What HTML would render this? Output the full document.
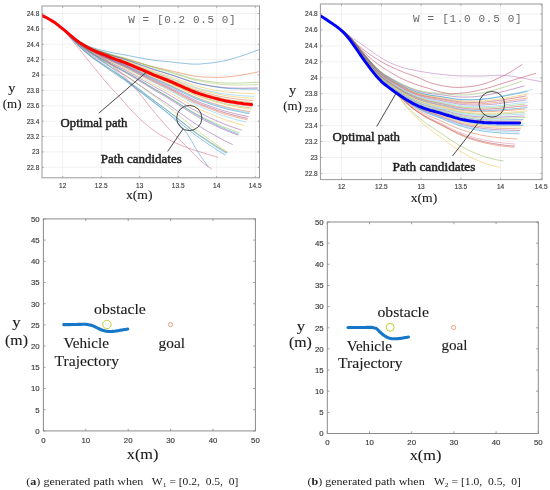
<!DOCTYPE html>
<html><head><meta charset="utf-8"><title>figure</title>
<style>
html,body{margin:0;padding:0;background:#fff;}
body{width:550px;height:490px;overflow:hidden;}
svg{display:block}
.tk{font-family:"Liberation Sans",sans-serif;stroke:#444;stroke-width:0.15px;}
.an{font-family:"Liberation Serif",serif;fill:#222;stroke:#222;stroke-width:0.45px;}
.lb{font-family:"Liberation Serif",serif;fill:#1a1a1a;stroke:#1a1a1a;stroke-width:0.1px;}
.mono{font-family:"Liberation Mono",monospace;fill:#666;}
.cap{font-family:"Liberation Serif",serif;fill:#222;}
</style></head><body>
<svg width="550" height="490" viewBox="0 0 550 490">
<rect width="550" height="490" fill="#fff"/>
<filter id="soft" x="0" y="0" width="550" height="490" filterUnits="userSpaceOnUse"><feGaussianBlur stdDeviation="0.35"/></filter>
<g filter="url(#soft)">
<line x1="62.7" y1="6.0" x2="62.7" y2="177.8" stroke="#ececec" stroke-width="0.7"/>
<line x1="101.2" y1="6.0" x2="101.2" y2="177.8" stroke="#ececec" stroke-width="0.7"/>
<line x1="139.7" y1="6.0" x2="139.7" y2="177.8" stroke="#ececec" stroke-width="0.7"/>
<line x1="178.2" y1="6.0" x2="178.2" y2="177.8" stroke="#ececec" stroke-width="0.7"/>
<line x1="216.7" y1="6.0" x2="216.7" y2="177.8" stroke="#ececec" stroke-width="0.7"/>
<line x1="255.2" y1="6.0" x2="255.2" y2="177.8" stroke="#ececec" stroke-width="0.7"/>
<line x1="42.0" y1="13.5" x2="259.5" y2="13.5" stroke="#ececec" stroke-width="0.7"/>
<line x1="42.0" y1="28.9" x2="259.5" y2="28.9" stroke="#ececec" stroke-width="0.7"/>
<line x1="42.0" y1="44.3" x2="259.5" y2="44.3" stroke="#ececec" stroke-width="0.7"/>
<line x1="42.0" y1="59.6" x2="259.5" y2="59.6" stroke="#ececec" stroke-width="0.7"/>
<line x1="42.0" y1="75.0" x2="259.5" y2="75.0" stroke="#ececec" stroke-width="0.7"/>
<line x1="42.0" y1="90.4" x2="259.5" y2="90.4" stroke="#ececec" stroke-width="0.7"/>
<line x1="42.0" y1="105.8" x2="259.5" y2="105.8" stroke="#ececec" stroke-width="0.7"/>
<line x1="42.0" y1="121.2" x2="259.5" y2="121.2" stroke="#ececec" stroke-width="0.7"/>
<line x1="42.0" y1="136.5" x2="259.5" y2="136.5" stroke="#ececec" stroke-width="0.7"/>
<line x1="42.0" y1="151.9" x2="259.5" y2="151.9" stroke="#ececec" stroke-width="0.7"/>
<line x1="42.0" y1="167.3" x2="259.5" y2="167.3" stroke="#ececec" stroke-width="0.7"/>
<clipPath id="c1"><rect x="42.0" y="6.0" width="217.5" height="171.8"/></clipPath>
<g clip-path="url(#c1)">
<polyline points="42.2,15.6 45.4,17.1 48.6,18.8 51.8,20.7 54.9,22.8 58.1,25.2 61.3,27.7 64.5,30.2 67.7,32.8 70.9,35.3 74.1,37.9 77.2,40.1 80.4,42.0 83.6,43.7 86.8,45.3 90.0,46.7 93.2,47.8 96.4,48.8 99.5,49.7 102.7,50.5 105.9,51.2 109.1,52.0 112.3,52.7 115.5,53.4 118.7,53.9 121.8,54.4 125.0,55.0 128.2,55.6 131.4,56.2 134.6,56.8 137.8,57.5 141.0,58.0 144.1,58.6 147.3,59.2 150.5,59.7 153.7,60.2 156.9,60.5 160.1,60.9 163.2,61.2 166.4,61.5 169.6,61.8 172.8,62.2 176.0,62.6 179.2,62.9 182.4,63.2 185.5,63.5 188.7,63.8 191.9,64.1 195.1,64.1 198.3,64.1 201.5,63.9 204.7,63.6 207.8,63.3 211.0,63.0 214.2,62.6 217.4,62.1 220.6,61.6 223.8,60.9 227.0,60.2 230.1,59.4 233.3,58.5 236.5,57.5 239.7,56.6 242.9,55.5 246.1,54.4 249.3,53.3 252.4,52.1 255.6,50.9 258.8,49.7 262.0,48.5" fill="none" stroke="#0072BD" stroke-width="0.55" stroke-opacity="0.8" stroke-linejoin="round" stroke-linecap="round" />
<polyline points="42.2,15.6 45.3,17.1 48.5,18.8 51.6,20.6 54.7,22.7 57.9,25.0 61.0,27.5 64.2,30.0 67.3,32.6 70.4,35.2 73.6,37.8 76.7,40.2 79.8,42.3 83.0,44.1 86.1,45.9 89.2,47.5 92.4,48.8 95.5,50.0 98.7,51.1 101.8,52.1 104.9,53.1 108.1,54.1 111.2,55.1 114.3,56.0 117.5,56.8 120.6,57.6 123.7,58.4 126.9,59.3 130.0,60.2 133.2,61.1 136.3,62.0 139.4,62.9 142.6,63.8 145.7,64.7 148.8,65.6 152.0,66.5 155.1,67.2 158.2,68.0 161.4,68.6 164.5,69.3 167.6,70.0 170.8,70.7 173.9,71.5 177.1,72.3 180.2,73.0 183.3,73.7 186.5,74.5 189.6,75.2 192.7,75.8 195.9,76.3 199.0,76.6 202.1,76.9 205.3,77.1 208.4,77.2 211.6,77.3 214.7,77.4 217.8,77.4 221.0,77.3 224.1,77.2 227.2,76.9 230.4,76.6 233.5,76.3 236.6,75.8 239.8,75.4 242.9,74.9 246.1,74.3 249.2,73.7 252.3,73.1 255.5,72.4 258.6,71.8" fill="none" stroke="#D95319" stroke-width="0.55" stroke-opacity="0.8" stroke-linejoin="round" stroke-linecap="round" />
<polyline points="42.2,15.6 45.3,17.1 48.5,18.8 51.6,20.6 54.7,22.7 57.9,25.0 61.0,27.4 64.2,29.9 67.3,32.4 70.4,35.0 73.6,37.5 76.7,39.9 79.8,41.9 83.0,43.7 86.1,45.4 89.2,46.9 92.4,48.3 95.5,49.4 98.7,50.5 101.8,51.5 104.9,52.4 108.1,53.4 111.2,54.4 114.3,55.4 117.5,56.2 120.6,57.0 123.7,57.8 126.9,58.8 130.0,59.7 133.2,60.7 136.3,61.7 139.4,62.7 142.6,63.7 145.7,64.7 148.8,65.7 152.0,66.7 155.1,67.6 158.2,68.4 161.4,69.3 164.5,70.1 167.6,71.0 170.8,71.9 173.9,72.8 177.1,73.8 180.2,74.8 183.3,75.7 186.5,76.7 189.6,77.6 192.7,78.5 195.9,79.2 199.0,79.8 202.1,80.4 205.3,80.9 208.4,81.3 211.6,81.7 214.7,82.1 217.8,82.5 221.0,82.8 224.1,83.0 227.2,83.1 230.4,83.1 233.5,83.2 236.6,83.1 239.8,83.1 242.9,83.0 246.1,82.9 249.2,82.7 252.3,82.5 255.5,82.4 258.6,82.2" fill="none" stroke="#77AC30" stroke-width="0.55" stroke-opacity="0.8" stroke-linejoin="round" stroke-linecap="round" />
<polyline points="42.2,15.6 45.3,17.1 48.5,18.8 51.6,20.6 54.7,22.6 57.8,24.9 61.0,27.4 64.1,29.8 67.2,32.4 70.3,34.9 73.5,37.4 76.6,39.8 79.7,41.8 82.9,43.6 86.0,45.3 89.1,46.9 92.2,48.2 95.4,49.4 98.5,50.5 101.6,51.5 104.8,52.5 107.9,53.5 111.0,54.5 114.1,55.4 117.3,56.3 120.4,57.1 123.5,58.0 126.6,58.9 129.8,59.9 132.9,61.0 136.0,62.0 139.2,63.0 142.3,64.0 145.4,65.1 148.5,66.1 151.7,67.1 154.8,68.0 157.9,68.9 161.0,69.8 164.2,70.7 167.3,71.6 170.4,72.5 173.6,73.5 176.7,74.5 179.8,75.5 182.9,76.5 186.1,77.5 189.2,78.5 192.3,79.4 195.4,80.2 198.6,80.9 201.7,81.5 204.8,82.1 208.0,82.6 211.1,83.1 214.2,83.5 217.3,83.9 220.5,84.3 223.6,84.6 226.7,84.8 229.9,84.9 233.0,85.0 236.1,85.0 239.2,85.0 242.4,85.0 245.5,85.0 248.6,84.9 251.7,84.8 254.9,84.7 258.0,84.6" fill="none" stroke="#9BBB40" stroke-width="0.55" stroke-opacity="0.8" stroke-linejoin="round" stroke-linecap="round" />
<polyline points="42.2,15.6 45.3,17.1 48.4,18.8 51.6,20.6 54.7,22.6 57.8,24.9 60.9,27.4 64.0,29.9 67.2,32.4 70.3,35.0 73.4,37.6 76.5,40.0 79.6,42.1 82.8,44.0 85.9,45.8 89.0,47.4 92.1,48.8 95.2,50.0 98.4,51.2 101.5,52.2 104.6,53.3 107.7,54.4 110.8,55.4 114.0,56.5 117.1,57.4 120.2,58.3 123.3,59.2 126.4,60.2 129.6,61.2 132.7,62.3 135.8,63.4 138.9,64.5 142.0,65.6 145.2,66.7 148.3,67.7 151.4,68.8 154.5,69.8 157.7,70.8 160.8,71.7 163.9,72.6 167.0,73.6 170.1,74.6 173.3,75.6 176.4,76.7 179.5,77.7 182.6,78.7 185.7,79.8 188.9,80.8 192.0,81.8 195.1,82.7 198.2,83.4 201.3,84.1 204.5,84.7 207.6,85.2 210.7,85.8 213.8,86.3 216.9,86.7 220.1,87.1 223.2,87.5 226.3,87.7 229.4,87.9 232.5,88.0 235.7,88.1 238.8,88.1 241.9,88.2 245.0,88.2 248.1,88.1 251.3,88.0 254.4,88.0 257.5,87.9" fill="none" stroke="#7E2F8E" stroke-width="0.55" stroke-opacity="0.8" stroke-linejoin="round" stroke-linecap="round" />
<polyline points="42.2,15.6 45.3,17.1 48.4,18.8 51.6,20.6 54.7,22.6 57.8,24.9 60.9,27.4 64.0,29.8 67.2,32.4 70.3,34.9 73.4,37.5 76.5,39.9 79.6,41.9 82.8,43.8 85.9,45.5 89.0,47.1 92.1,48.5 95.2,49.7 98.4,50.9 101.5,51.9 104.6,53.0 107.7,54.0 110.8,55.1 114.0,56.1 117.1,57.0 120.2,57.9 123.3,58.8 126.4,59.8 129.6,60.9 132.7,62.0 135.8,63.1 138.9,64.1 142.0,65.2 145.2,66.3 148.3,67.4 151.4,68.5 154.5,69.5 157.7,70.5 160.8,71.4 163.9,72.4 167.0,73.4 170.1,74.4 173.3,75.4 176.4,76.5 179.5,77.6 182.6,78.7 185.7,79.7 188.9,80.8 192.0,81.9 195.1,82.8 198.2,83.5 201.3,84.2 204.5,84.9 207.6,85.5 210.7,86.1 213.8,86.6 216.9,87.1 220.1,87.6 223.2,88.0 226.3,88.3 229.4,88.5 232.5,88.7 235.7,88.8 238.8,88.9 241.9,89.0 245.0,89.1 248.1,89.1 251.3,89.1 254.4,89.1 257.5,89.1" fill="none" stroke="#0072BD" stroke-width="0.55" stroke-opacity="0.8" stroke-linejoin="round" stroke-linecap="round" />
<polyline points="42.2,15.6 45.3,17.0 48.4,18.7 51.4,20.5 54.5,22.5 57.6,24.7 60.7,27.2 63.7,29.6 66.8,32.2 69.9,34.7 73.0,37.3 76.0,39.7 79.1,41.8 82.2,43.7 85.3,45.5 88.4,47.2 91.4,48.7 94.5,49.9 97.6,51.1 100.7,52.2 103.7,53.3 106.8,54.4 109.9,55.5 113.0,56.6 116.0,57.6 119.1,58.6 122.2,59.5 125.3,60.5 128.4,61.6 131.4,62.7 134.5,63.9 137.6,65.0 140.7,66.2 143.7,67.3 146.8,68.5 149.9,69.6 153.0,70.7 156.0,71.8 159.1,72.8 162.2,73.8 165.3,74.8 168.3,75.9 171.4,77.0 174.5,78.1 177.6,79.3 180.7,80.4 183.7,81.5 186.8,82.7 189.9,83.8 193.0,84.9 196.0,85.8 199.1,86.7 202.2,87.4 205.3,88.1 208.3,88.8 211.4,89.4 214.5,90.0 217.6,90.6 220.7,91.2 223.7,91.6 226.8,92.0 229.9,92.3 233.0,92.6 236.0,92.8 239.1,93.0 242.2,93.2 245.3,93.3 248.3,93.4 251.4,93.5 254.5,93.6" fill="none" stroke="#EDB120" stroke-width="0.55" stroke-opacity="0.8" stroke-linejoin="round" stroke-linecap="round" />
<polyline points="42.2,15.6 45.3,17.0 48.3,18.7 51.4,20.5 54.5,22.5 57.5,24.7 60.6,27.1 63.7,29.6 66.8,32.2 69.8,34.7 72.9,37.3 76.0,39.8 79.0,41.9 82.1,43.9 85.2,45.7 88.2,47.4 91.3,48.9 94.4,50.2 97.5,51.4 100.5,52.6 103.6,53.7 106.7,54.8 109.7,56.0 112.8,57.1 115.9,58.2 118.9,59.1 122.0,60.1 125.1,61.2 128.1,62.3 131.2,63.5 134.3,64.6 137.4,65.8 140.4,67.0 143.5,68.2 146.6,69.4 149.6,70.6 152.7,71.7 155.8,72.9 158.8,73.9 161.9,75.0 165.0,76.0 168.1,77.1 171.1,78.3 174.2,79.4 177.3,80.6 180.3,81.8 183.4,83.0 186.5,84.2 189.5,85.4 192.6,86.5 195.7,87.5 198.7,88.4 201.8,89.2 204.9,90.0 208.0,90.7 211.0,91.4 214.1,92.0 217.2,92.7 220.2,93.3 223.3,93.8 226.4,94.2 229.4,94.6 232.5,94.9 235.6,95.2 238.7,95.4 241.7,95.7 244.8,95.9 247.9,96.0 250.9,96.2 254.0,96.3" fill="none" stroke="#4DBEEE" stroke-width="0.55" stroke-opacity="0.8" stroke-linejoin="round" stroke-linecap="round" />
<polyline points="42.2,15.6 45.3,17.0 48.3,18.7 51.4,20.5 54.4,22.5 57.5,24.7 60.6,27.1 63.6,29.6 66.7,32.1 69.8,34.6 72.8,37.2 75.9,39.7 78.9,41.8 82.0,43.8 85.1,45.6 88.1,47.3 91.2,48.8 94.3,50.1 97.3,51.3 100.4,52.5 103.4,53.6 106.5,54.8 109.6,55.9 112.6,57.1 115.7,58.1 118.8,59.1 121.8,60.1 124.9,61.2 127.9,62.3 131.0,63.5 134.1,64.7 137.1,65.9 140.2,67.1 143.3,68.3 146.3,69.6 149.4,70.8 152.4,72.0 155.5,73.1 158.6,74.2 161.6,75.3 164.7,76.4 167.8,77.5 170.8,78.7 173.9,79.9 176.9,81.1 180.0,82.4 183.1,83.6 186.1,84.8 189.2,86.0 192.3,87.2 195.3,88.3 198.4,89.2 201.4,90.1 204.5,90.9 207.6,91.7 210.6,92.4 213.7,93.1 216.8,93.8 219.8,94.5 222.9,95.1 225.9,95.6 229.0,96.0 232.1,96.4 235.1,96.8 238.2,97.1 241.3,97.4 244.3,97.6 247.4,97.9 250.4,98.1 253.5,98.3" fill="none" stroke="#EDB120" stroke-width="0.55" stroke-opacity="0.8" stroke-linejoin="round" stroke-linecap="round" />
<polyline points="42.2,15.6 45.3,17.0 48.3,18.7 51.4,20.5 54.4,22.4 57.5,24.6 60.5,27.1 63.6,29.5 66.6,32.1 69.7,34.6 72.8,37.2 75.8,39.7 78.9,41.9 81.9,43.9 85.0,45.7 88.0,47.4 91.1,49.0 94.1,50.4 97.2,51.6 100.2,52.8 103.3,54.0 106.4,55.1 109.4,56.3 112.5,57.5 115.5,58.6 118.6,59.6 121.6,60.6 124.7,61.7 127.7,62.9 130.8,64.1 133.9,65.4 136.9,66.6 140.0,67.8 143.0,69.1 146.1,70.3 149.1,71.6 152.2,72.8 155.2,74.0 158.3,75.1 161.3,76.3 164.4,77.4 167.5,78.5 170.5,79.7 173.6,81.0 176.6,82.3 179.7,83.5 182.7,84.8 185.8,86.0 188.8,87.3 191.9,88.6 195.0,89.7 198.0,90.7 201.1,91.6 204.1,92.4 207.2,93.3 210.2,94.0 213.3,94.8 216.3,95.6 219.4,96.3 222.4,96.9 225.5,97.4 228.6,97.9 231.6,98.4 234.7,98.8 237.7,99.1 240.8,99.5 243.8,99.8 246.9,100.1 249.9,100.3 253.0,100.6" fill="none" stroke="#D95319" stroke-width="0.55" stroke-opacity="0.8" stroke-linejoin="round" stroke-linecap="round" />
<polyline points="42.2,15.6 45.2,17.0 48.3,18.7 51.3,20.5 54.4,22.4 57.4,24.6 60.5,27.0 63.5,29.5 66.6,32.0 69.6,34.6 72.6,37.2 75.7,39.7 78.7,41.9 81.8,43.9 84.8,45.7 87.9,47.5 90.9,49.0 94.0,50.4 97.0,51.7 100.1,52.9 103.1,54.1 106.1,55.3 109.2,56.5 112.2,57.7 115.3,58.8 118.3,59.8 121.4,60.9 124.4,62.0 127.5,63.2 130.5,64.4 133.5,65.7 136.6,66.9 139.6,68.2 142.7,69.5 145.7,70.8 148.8,72.0 151.8,73.3 154.9,74.5 157.9,75.7 161.0,76.9 164.0,78.0 167.0,79.2 170.1,80.4 173.1,81.7 176.2,83.0 179.2,84.3 182.3,85.6 185.3,86.9 188.4,88.2 191.4,89.5 194.4,90.7 197.5,91.7 200.5,92.7 203.6,93.6 206.6,94.5 209.7,95.3 212.7,96.1 215.8,96.9 218.8,97.6 221.9,98.3 224.9,99.0 227.9,99.5 231.0,100.0 234.0,100.5 237.1,100.9 240.1,101.3 243.2,101.6 246.2,102.0 249.3,102.3 252.3,102.6" fill="none" stroke="#77AC30" stroke-width="0.55" stroke-opacity="0.8" stroke-linejoin="round" stroke-linecap="round" />
<polyline points="42.2,15.6 45.2,17.0 48.3,18.7 51.3,20.5 54.4,22.4 57.4,24.6 60.5,27.0 63.5,29.5 66.6,32.1 69.6,34.7 72.6,37.3 75.7,39.8 78.7,42.1 81.8,44.1 84.8,46.0 87.9,47.8 90.9,49.4 94.0,50.8 97.0,52.1 100.1,53.4 103.1,54.6 106.1,55.9 109.2,57.1 112.2,58.4 115.3,59.5 118.3,60.6 121.4,61.8 124.4,62.9 127.5,64.2 130.5,65.4 133.5,66.8 136.6,68.1 139.6,69.4 142.7,70.7 145.7,72.1 148.8,73.4 151.8,74.8 154.9,76.0 157.9,77.3 161.0,78.5 164.0,79.7 167.0,81.0 170.1,82.3 173.1,83.6 176.2,85.0 179.2,86.4 182.3,87.7 185.3,89.1 188.4,90.5 191.4,91.8 194.4,93.1 197.5,94.2 200.5,95.2 203.6,96.2 206.6,97.2 209.7,98.1 212.7,99.0 215.8,99.8 218.8,100.7 221.9,101.4 224.9,102.1 227.9,102.8 231.0,103.3 234.0,103.9 237.1,104.4 240.1,104.8 243.2,105.3 246.2,105.7 249.3,106.1 252.3,106.5" fill="none" stroke="#D8708A" stroke-width="0.55" stroke-opacity="0.8" stroke-linejoin="round" stroke-linecap="round" />
<polyline points="42.2,15.6 45.2,17.0 48.3,18.7 51.3,20.5 54.3,22.4 57.4,24.5 60.4,27.0 63.4,29.5 66.4,32.0 69.5,34.6 72.5,37.3 75.5,39.8 78.6,42.1 81.6,44.1 84.6,46.0 87.7,47.8 90.7,49.5 93.7,51.0 96.7,52.3 99.8,53.6 102.8,54.8 105.8,56.1 108.9,57.4 111.9,58.6 114.9,59.8 118.0,61.0 121.0,62.1 124.0,63.3 127.1,64.5 130.1,65.8 133.1,67.1 136.1,68.5 139.2,69.8 142.2,71.2 145.2,72.6 148.3,73.9 151.3,75.3 154.3,76.6 157.4,77.9 160.4,79.1 163.4,80.3 166.4,81.6 169.5,82.9 172.5,84.3 175.5,85.7 178.6,87.0 181.6,88.4 184.6,89.8 187.7,91.2 190.7,92.6 193.7,93.9 196.8,95.1 199.8,96.2 202.8,97.2 205.8,98.1 208.9,99.1 211.9,100.0 214.9,100.9 218.0,101.8 221.0,102.6 224.0,103.3 227.1,104.0 230.1,104.6 233.1,105.2 236.1,105.7 239.2,106.2 242.2,106.7 245.2,107.2 248.3,107.6 251.3,108.0" fill="none" stroke="#77AC30" stroke-width="0.55" stroke-opacity="0.8" stroke-linejoin="round" stroke-linecap="round" />
<polyline points="42.2,15.6 45.2,17.0 48.2,18.6 51.3,20.4 54.3,22.4 57.3,24.5 60.3,26.9 63.4,29.4 66.4,32.0 69.4,34.6 72.4,37.2 75.5,39.8 78.5,42.0 81.5,44.1 84.5,46.0 87.5,47.8 90.6,49.5 93.6,50.9 96.6,52.3 99.6,53.6 102.7,54.8 105.7,56.1 108.7,57.4 111.7,58.7 114.8,59.9 117.8,61.0 120.8,62.2 123.8,63.3 126.8,64.6 129.9,65.9 132.9,67.3 135.9,68.6 138.9,70.0 142.0,71.3 145.0,72.7 148.0,74.1 151.0,75.5 154.1,76.8 157.1,78.1 160.1,79.4 163.1,80.6 166.2,81.9 169.2,83.2 172.2,84.6 175.2,86.0 178.2,87.4 181.3,88.8 184.3,90.2 187.3,91.7 190.3,93.1 193.4,94.4 196.4,95.6 199.4,96.7 202.4,97.8 205.5,98.8 208.5,99.8 211.5,100.7 214.5,101.7 217.5,102.6 220.6,103.4 223.6,104.2 226.6,104.9 229.6,105.5 232.7,106.1 235.7,106.7 238.7,107.3 241.7,107.8 244.8,108.3 247.8,108.8 250.8,109.2" fill="none" stroke="#EDB120" stroke-width="0.55" stroke-opacity="0.8" stroke-linejoin="round" stroke-linecap="round" />
<polyline points="42.2,15.6 45.2,17.0 48.2,18.6 51.2,20.4 54.2,22.3 57.3,24.5 60.3,26.9 63.3,29.4 66.3,32.0 69.3,34.6 72.3,37.2 75.3,39.8 78.3,42.1 81.4,44.2 84.4,46.2 87.4,48.0 90.4,49.7 93.4,51.2 96.4,52.6 99.4,54.0 102.4,55.3 105.4,56.5 108.5,57.9 111.5,59.2 114.5,60.4 117.5,61.6 120.5,62.8 123.5,64.0 126.5,65.3 129.5,66.7 132.5,68.0 135.6,69.4 138.6,70.8 141.6,72.2 144.6,73.6 147.6,75.1 150.6,76.5 153.6,77.9 156.6,79.2 159.7,80.5 162.7,81.8 165.7,83.1 168.7,84.5 171.7,85.9 174.7,87.3 177.7,88.8 180.7,90.2 183.7,91.6 186.8,93.1 189.8,94.6 192.8,96.0 195.8,97.2 198.8,98.4 201.8,99.5 204.8,100.6 207.8,101.6 210.8,102.6 213.9,103.5 216.9,104.5 219.9,105.4 222.9,106.2 225.9,107.0 228.9,107.7 231.9,108.4 234.9,109.0 238.0,109.6 241.0,110.1 244.0,110.7 247.0,111.2 250.0,111.7" fill="none" stroke="#D95319" stroke-width="0.55" stroke-opacity="0.8" stroke-linejoin="round" stroke-linecap="round" />
<polyline points="42.2,15.6 45.2,17.0 48.2,18.6 51.2,20.4 54.2,22.3 57.2,24.4 60.2,26.8 63.2,29.3 66.2,31.9 69.2,34.5 72.2,37.2 75.2,39.7 78.2,42.1 81.2,44.1 84.2,46.1 87.2,48.0 90.2,49.7 93.2,51.2 96.2,52.6 99.2,53.9 102.2,55.2 105.2,56.5 108.2,57.9 111.2,59.2 114.2,60.5 117.2,61.7 120.2,62.8 123.2,64.1 126.2,65.3 129.2,66.7 132.2,68.1 135.2,69.5 138.2,70.9 141.2,72.3 144.2,73.7 147.3,75.2 150.3,76.6 153.3,78.0 156.3,79.3 159.3,80.7 162.3,82.0 165.3,83.3 168.3,84.7 171.3,86.1 174.3,87.5 177.3,89.0 180.3,90.5 183.3,91.9 186.3,93.4 189.3,94.9 192.3,96.3 195.3,97.6 198.3,98.8 201.3,99.9 204.3,101.0 207.3,102.1 210.3,103.1 213.3,104.1 216.3,105.0 219.3,106.0 222.3,106.9 225.3,107.7 228.3,108.4 231.3,109.1 234.3,109.7 237.3,110.4 240.3,110.9 243.3,111.5 246.3,112.1 249.3,112.6" fill="none" stroke="#4DBEEE" stroke-width="0.55" stroke-opacity="0.8" stroke-linejoin="round" stroke-linecap="round" />
<polyline points="42.2,15.6 45.2,17.0 48.2,18.6 51.2,20.4 54.2,22.3 57.2,24.4 60.2,26.8 63.2,29.3 66.2,31.9 69.2,34.6 72.2,37.2 75.2,39.9 78.1,42.2 81.1,44.3 84.1,46.3 87.1,48.2 90.1,49.9 93.1,51.5 96.1,52.9 99.1,54.3 102.1,55.6 105.1,56.9 108.1,58.2 111.1,59.6 114.1,60.9 117.1,62.1 120.1,63.3 123.1,64.5 126.1,65.8 129.1,67.2 132.1,68.6 135.1,70.0 138.1,71.4 141.1,72.9 144.1,74.3 147.0,75.7 150.0,77.2 153.0,78.6 156.0,80.0 159.0,81.3 162.0,82.6 165.0,84.0 168.0,85.3 171.0,86.7 174.0,88.2 177.0,89.7 180.0,91.2 183.0,92.6 186.0,94.1 189.0,95.6 192.0,97.0 195.0,98.4 198.0,99.6 201.0,100.7 204.0,101.8 207.0,102.9 210.0,103.9 213.0,104.9 215.9,105.9 218.9,106.9 221.9,107.7 224.9,108.6 227.9,109.3 230.9,110.0 233.9,110.7 236.9,111.3 239.9,111.9 242.9,112.5 245.9,113.1 248.9,113.6" fill="none" stroke="#0072BD" stroke-width="0.55" stroke-opacity="0.8" stroke-linejoin="round" stroke-linecap="round" />
<polyline points="42.2,15.6 45.2,17.0 48.2,18.6 51.2,20.4 54.1,22.3 57.1,24.4 60.1,26.8 63.1,29.3 66.1,31.9 69.1,34.5 72.1,37.2 75.0,39.8 78.0,42.1 81.0,44.3 84.0,46.3 87.0,48.2 90.0,49.9 93.0,51.5 95.9,53.0 98.9,54.4 101.9,55.7 104.9,57.1 107.9,58.4 110.9,59.8 113.9,61.2 116.8,62.4 119.8,63.6 122.8,64.9 125.8,66.2 128.8,67.6 131.8,69.1 134.8,70.6 137.7,72.0 140.7,73.5 143.7,75.0 146.7,76.5 149.7,77.9 152.7,79.4 155.6,80.8 158.6,82.2 161.6,83.6 164.6,85.0 167.6,86.4 170.6,87.9 173.6,89.4 176.5,90.9 179.5,92.4 182.5,94.0 185.5,95.5 188.5,97.0 191.5,98.6 194.5,100.0 197.4,101.3 200.4,102.5 203.4,103.7 206.4,104.8 209.4,105.9 212.4,107.0 215.4,108.0 218.3,109.0 221.3,110.0 224.3,110.9 227.3,111.7 230.3,112.5 233.3,113.3 236.3,114.0 239.2,114.7 242.2,115.3 245.2,116.0 248.2,116.6" fill="none" stroke="#7E2F8E" stroke-width="0.55" stroke-opacity="0.8" stroke-linejoin="round" stroke-linecap="round" />
<polyline points="42.2,15.6 45.2,17.0 48.1,18.6 51.1,20.3 54.1,22.2 57.1,24.3 60.0,26.7 63.0,29.2 66.0,31.8 69.0,34.5 71.9,37.2 74.9,39.8 77.9,42.2 80.8,44.4 83.8,46.4 86.8,48.3 89.8,50.1 92.7,51.8 95.7,53.2 98.7,54.7 101.6,56.1 104.6,57.4 107.6,58.8 110.6,60.2 113.5,61.6 116.5,62.9 119.5,64.1 122.5,65.4 125.4,66.8 128.4,68.2 131.4,69.6 134.3,71.1 137.3,72.6 140.3,74.1 143.3,75.6 146.2,77.1 149.2,78.6 152.2,80.1 155.2,81.6 158.1,83.0 161.1,84.4 164.1,85.8 167.0,87.2 170.0,88.7 173.0,90.3 176.0,91.8 178.9,93.4 181.9,94.9 184.9,96.5 187.9,98.0 190.8,99.6 193.8,101.1 196.8,102.4 199.7,103.7 202.7,104.9 205.7,106.0 208.7,107.1 211.6,108.2 214.6,109.3 217.6,110.4 220.5,111.4 223.5,112.3 226.5,113.2 229.5,114.0 232.4,114.8 235.4,115.6 238.4,116.3 241.4,117.0 244.3,117.7 247.3,118.3" fill="none" stroke="#A2142F" stroke-width="0.55" stroke-opacity="0.8" stroke-linejoin="round" stroke-linecap="round" />
<polyline points="42.2,15.6 45.2,17.0 48.1,18.6 51.1,20.3 54.1,22.2 57.0,24.3 60.0,26.7 63.0,29.3 65.9,31.9 68.9,34.6 71.9,37.3 74.8,40.0 77.8,42.4 80.8,44.6 83.8,46.6 86.7,48.6 89.7,50.4 92.7,52.1 95.6,53.6 98.6,55.0 101.6,56.4 104.5,57.8 107.5,59.2 110.5,60.7 113.4,62.1 116.4,63.4 119.4,64.7 122.3,66.0 125.3,67.3 128.3,68.8 131.2,70.3 134.2,71.8 137.2,73.3 140.1,74.8 143.1,76.3 146.1,77.9 149.1,79.4 152.0,80.9 155.0,82.4 158.0,83.8 160.9,85.2 163.9,86.7 166.9,88.1 169.8,89.6 172.8,91.1 175.8,92.7 178.7,94.3 181.7,95.9 184.7,97.4 187.6,99.0 190.6,100.6 193.6,102.1 196.5,103.4 199.5,104.7 202.5,106.0 205.4,107.1 208.4,108.3 211.4,109.4 214.4,110.5 217.3,111.6 220.3,112.6 223.3,113.6 226.2,114.5 229.2,115.3 232.2,116.1 235.1,116.9 238.1,117.6 241.1,118.3 244.0,119.0 247.0,119.7" fill="none" stroke="#D95319" stroke-width="0.55" stroke-opacity="0.8" stroke-linejoin="round" stroke-linecap="round" />
<polyline points="42.2,15.6 45.2,17.0 48.1,18.6 51.1,20.3 54.0,22.2 57.0,24.2 59.9,26.6 62.9,29.1 65.8,31.7 68.8,34.4 71.7,37.0 74.7,39.7 77.6,42.1 80.6,44.3 83.5,46.4 86.5,48.4 89.4,50.2 92.4,51.9 95.3,53.4 98.3,54.9 101.2,56.3 104.2,57.7 107.1,59.1 110.1,60.6 113.0,62.0 116.0,63.4 118.9,64.7 121.9,66.0 124.8,67.4 127.8,68.8 130.7,70.3 133.7,71.9 136.6,73.4 139.6,74.9 142.5,76.5 145.5,78.1 148.4,79.6 151.4,81.2 154.3,82.7 157.3,84.2 160.2,85.7 163.2,87.1 166.1,88.6 169.1,90.1 172.0,91.7 175.0,93.3 177.9,95.0 180.9,96.6 183.8,98.2 186.8,99.8 189.7,101.5 192.7,103.0 195.6,104.5 198.6,105.9 201.5,107.2 204.5,108.4 207.4,109.6 210.4,110.8 213.3,112.0 216.3,113.1 219.2,114.3 222.2,115.3 225.1,116.3 228.1,117.2 231.0,118.1 234.0,119.0 236.9,119.8 239.9,120.6 242.8,121.3 245.8,122.1" fill="none" stroke="#4DBEEE" stroke-width="0.55" stroke-opacity="0.8" stroke-linejoin="round" stroke-linecap="round" />
<polyline points="42.2,15.6 45.1,17.0 48.0,18.5 51.0,20.3 53.9,22.1 56.8,24.1 59.7,26.5 62.7,29.0 65.6,31.6 68.5,34.3 71.4,37.0 74.4,39.7 77.3,42.2 80.2,44.5 83.1,46.6 86.1,48.6 89.0,50.5 91.9,52.3 94.8,53.9 97.8,55.4 100.7,56.9 103.6,58.3 106.5,59.8 109.5,61.3 112.4,62.8 115.3,64.2 118.2,65.5 121.2,66.9 124.1,68.3 127.0,69.8 129.9,71.4 132.9,72.9 135.8,74.5 138.7,76.1 141.6,77.7 144.6,79.3 147.5,80.9 150.4,82.6 153.3,84.1 156.3,85.7 159.2,87.2 162.1,88.7 165.0,90.2 168.0,91.8 170.9,93.4 173.8,95.1 176.7,96.7 179.7,98.4 182.6,100.1 185.5,101.7 188.4,103.4 191.4,105.1 194.3,106.6 197.2,108.1 200.1,109.5 203.1,110.8 206.0,112.1 208.9,113.3 211.8,114.6 214.8,115.8 217.7,117.0 220.6,118.1 223.5,119.2 226.5,120.2 229.4,121.2 232.3,122.1 235.2,123.0 238.2,123.8 241.1,124.7 244.0,125.5" fill="none" stroke="#EDB120" stroke-width="0.55" stroke-opacity="0.8" stroke-linejoin="round" stroke-linecap="round" />
<polyline points="42.2,15.6 45.1,17.0 48.0,18.5 50.9,20.2 53.8,22.0 56.6,24.0 59.5,26.3 62.4,28.8 65.3,31.4 68.2,34.1 71.1,36.8 74.0,39.5 76.9,42.0 79.7,44.3 82.6,46.5 85.5,48.5 88.4,50.5 91.3,52.3 94.2,54.0 97.1,55.5 100.0,57.0 102.9,58.5 105.7,60.0 108.6,61.6 111.5,63.1 114.4,64.6 117.3,66.0 120.2,67.5 123.1,68.9 126.0,70.4 128.9,72.0 131.7,73.6 134.6,75.3 137.5,76.9 140.4,78.6 143.3,80.3 146.2,82.0 149.1,83.6 152.0,85.3 154.8,87.0 157.7,88.6 160.6,90.1 163.5,91.7 166.4,93.3 169.3,95.0 172.2,96.7 175.1,98.5 178.0,100.2 180.8,102.0 183.7,103.7 186.6,105.5 189.5,107.2 192.4,109.0 195.3,110.6 198.2,112.1 201.1,113.5 204.0,114.9 206.8,116.3 209.7,117.7 212.6,119.0 215.5,120.3 218.4,121.6 221.3,122.8 224.2,124.0 227.1,125.1 229.9,126.2 232.8,127.2 235.7,128.2 238.6,129.1 241.5,130.1" fill="none" stroke="#7E2F8E" stroke-width="0.55" stroke-opacity="0.8" stroke-linejoin="round" stroke-linecap="round" />
<polyline points="42.2,15.6 45.1,16.9 47.9,18.5 50.8,20.1 53.6,21.9 56.5,23.9 59.3,26.2 62.2,28.7 65.0,31.3 67.9,34.1 70.7,36.8 73.6,39.6 76.4,42.2 79.3,44.6 82.1,46.8 85.0,48.9 87.8,51.0 90.7,52.9 93.5,54.6 96.4,56.2 99.2,57.8 102.1,59.4 104.9,60.9 107.8,62.5 110.7,64.1 113.5,65.6 116.4,67.1 119.2,68.6 122.1,70.1 124.9,71.6 127.8,73.2 130.6,74.8 133.5,76.5 136.3,78.2 139.2,79.9 142.0,81.6 144.9,83.3 147.7,85.0 150.6,86.7 153.4,88.4 156.3,90.1 159.1,91.7 162.0,93.3 164.8,94.9 167.7,96.6 170.5,98.3 173.4,100.0 176.3,101.8 179.1,103.5 182.0,105.3 184.8,107.1 187.7,108.9 190.5,110.6 193.4,112.3 196.2,113.9 199.1,115.4 201.9,116.9 204.8,118.3 207.6,119.6 210.5,121.0 213.3,122.3 216.2,123.6 219.0,124.9 221.9,126.2 224.7,127.3 227.6,128.4 230.4,129.5 233.3,130.5 236.1,131.5 239.0,132.5" fill="none" stroke="#77AC30" stroke-width="0.55" stroke-opacity="0.8" stroke-linejoin="round" stroke-linecap="round" />
<polyline points="42.2,15.6 45.0,16.9 47.9,18.4 50.7,20.1 53.6,21.9 56.4,23.8 59.2,26.1 62.1,28.6 64.9,31.1 67.8,33.8 70.6,36.5 73.4,39.2 76.3,41.8 79.1,44.2 82.0,46.3 84.8,48.4 87.6,50.5 90.5,52.4 93.3,54.1 96.2,55.7 99.0,57.3 101.9,58.8 104.7,60.4 107.5,61.9 110.4,63.5 113.2,65.1 116.1,66.6 118.9,68.0 121.7,69.5 124.6,71.1 127.4,72.7 130.3,74.3 133.1,76.0 135.9,77.7 138.8,79.4 141.6,81.1 144.5,82.9 147.3,84.6 150.1,86.4 153.0,88.1 155.8,89.8 158.7,91.4 161.5,93.1 164.3,94.7 167.2,96.4 170.0,98.1 172.9,99.9 175.7,101.7 178.5,103.5 181.4,105.3 184.2,107.1 187.1,109.0 189.9,110.8 192.8,112.6 195.6,114.3 198.4,115.8 201.3,117.3 204.1,118.8 207.0,120.3 209.8,121.7 212.6,123.1 215.5,124.5 218.3,125.8 221.2,127.2 224.0,128.4 226.8,129.6 229.7,130.7 232.5,131.9 235.4,132.9 238.2,134.0" fill="none" stroke="#0072BD" stroke-width="0.55" stroke-opacity="0.8" stroke-linejoin="round" stroke-linecap="round" />
<polyline points="42.2,15.6 45.0,16.9 47.9,18.4 50.7,20.1 53.5,21.9 56.4,23.8 59.2,26.1 62.0,28.6 64.9,31.2 67.7,33.9 70.5,36.7 73.4,39.5 76.2,42.1 79.1,44.5 81.9,46.8 84.7,48.9 87.6,51.0 90.4,52.9 93.2,54.7 96.1,56.3 98.9,58.0 101.7,59.5 104.6,61.1 107.4,62.7 110.2,64.3 113.1,65.9 115.9,67.5 118.7,68.9 121.6,70.5 124.4,72.0 127.2,73.6 130.1,75.3 132.9,77.0 135.7,78.7 138.6,80.5 141.4,82.2 144.3,83.9 147.1,85.7 149.9,87.4 152.8,89.2 155.6,90.9 158.4,92.5 161.3,94.2 164.1,95.8 166.9,97.5 169.8,99.3 172.6,101.0 175.4,102.8 178.3,104.7 181.1,106.5 183.9,108.3 186.8,110.1 189.6,111.9 192.4,113.7 195.3,115.4 198.1,117.0 200.9,118.5 203.8,119.9 206.6,121.4 209.5,122.8 212.3,124.2 215.1,125.6 218.0,126.9 220.8,128.2 223.6,129.5 226.5,130.7 229.3,131.8 232.1,132.9 235.0,134.0 237.8,135.0" fill="none" stroke="#7E2F8E" stroke-width="0.55" stroke-opacity="0.8" stroke-linejoin="round" stroke-linecap="round" />
<polyline points="42.2,15.6 45.0,16.9 47.7,18.3 50.5,19.9 53.2,21.7 56.0,23.5 58.7,25.7 61.5,28.2 64.2,30.8 67.0,33.5 69.8,36.2 72.5,39.0 75.3,41.8 78.0,44.3 80.8,46.7 83.5,48.9 86.3,51.1 89.0,53.1 91.8,55.1 94.5,56.9 97.3,58.6 100.1,60.3 102.8,62.0 105.6,63.7 108.3,65.4 111.1,67.2 113.8,68.8 116.6,70.5 119.3,72.1 122.1,73.7 124.9,75.4 127.6,77.2 130.4,79.0 133.1,80.9 135.9,82.7 138.6,84.6 141.4,86.4 144.1,88.3 146.9,90.2 149.6,92.1 152.4,94.0 155.2,95.9 157.9,97.7 160.7,99.5 163.4,101.3 166.2,103.1 168.9,105.0 171.7,106.9 174.4,108.9 177.2,110.9 180.0,112.8 182.7,114.8 185.5,116.8 188.2,118.8 191.0,120.8 193.7,122.7 196.5,124.5 199.2,126.2 202.0,127.9 204.7,129.5 207.5,131.2 210.3,132.7 213.0,134.3 215.8,135.9 218.5,137.4 221.3,138.9 224.0,140.4 226.8,141.8 229.5,143.1 232.3,144.4" fill="none" stroke="#7E2F8E" stroke-width="0.55" stroke-opacity="0.8" stroke-linejoin="round" stroke-linecap="round" />
<polyline points="42.2,15.6 44.9,16.8 47.6,18.3 50.3,19.8 52.9,21.5 55.6,23.3 58.3,25.3 61.0,27.5 63.7,29.9 66.4,32.4 69.0,34.9 71.7,37.5 74.4,40.1 77.1,42.5 79.8,44.8 82.5,46.9 85.1,49.0 87.8,51.0 90.5,53.0 93.2,54.7 95.9,56.4 98.6,58.1 101.2,59.8 103.9,61.4 106.6,63.1 109.3,64.8 112.0,66.6 114.7,68.3 117.4,69.9 120.0,71.6 122.7,73.3 125.4,75.1 128.1,76.9 130.8,78.8 133.5,80.7 136.1,82.7 138.8,84.7 141.5,86.7 144.2,88.7 146.9,90.7 149.6,92.7 152.2,94.8 154.9,96.8 157.6,98.8 160.3,100.8 163.0,102.8 165.7,104.8 168.4,106.9 171.0,109.0 173.7,111.2 176.4,113.4 179.1,115.6 181.8,117.8 184.5,120.1 187.1,122.3 189.8,124.6 192.5,126.8 195.2,129.0 197.9,131.0 200.6,133.1 203.2,135.0 205.9,137.0 208.6,138.9 211.3,140.9 214.0,142.8 216.7,144.7 219.3,146.7 222.0,148.5 224.7,150.3 227.4,152.1" fill="none" stroke="#9BBB40" stroke-width="0.55" stroke-opacity="0.8" stroke-linejoin="round" stroke-linecap="round" />
<polyline points="42.2,15.6 44.9,16.8 47.6,18.3 50.2,19.8 52.9,21.5 55.6,23.3 58.3,25.3 61.0,27.8 63.6,30.5 66.3,33.2 69.0,36.1 71.7,38.9 74.4,41.8 77.1,44.5 79.7,47.0 82.4,49.4 85.1,51.7 87.8,53.9 90.5,56.0 93.1,58.0 95.8,59.9 98.5,61.7 101.2,63.6 103.9,65.3 106.5,67.2 109.2,69.0 111.9,70.9 114.6,72.7 117.3,74.4 120.0,76.2 122.6,77.9 125.3,79.8 128.0,81.7 130.7,83.6 133.4,85.6 136.0,87.5 138.7,89.5 141.4,91.5 144.1,93.5 146.8,95.5 149.4,97.5 152.1,99.5 154.8,101.5 157.5,103.4 160.2,105.4 162.9,107.3 165.5,109.2 168.2,111.2 170.9,113.3 173.6,115.3 176.3,117.4 178.9,119.5 181.6,121.6 184.3,123.7 187.0,125.8 189.7,127.9 192.3,129.9 195.0,131.9 197.7,133.8 200.4,135.6 203.1,137.4 205.8,139.2 208.4,140.9 211.1,142.6 213.8,144.3 216.5,146.0 219.2,147.6 221.8,149.3 224.5,150.8 227.2,152.3" fill="none" stroke="#EDB120" stroke-width="0.55" stroke-opacity="0.8" stroke-linejoin="round" stroke-linecap="round" />
<polyline points="42.2,15.6 44.9,16.8 47.6,18.3 50.2,19.8 52.9,21.5 55.6,23.2 58.3,25.3 60.9,27.7 63.6,30.3 66.3,33.0 69.0,35.8 71.6,38.6 74.3,41.4 77.0,44.1 79.7,46.6 82.3,48.9 85.0,51.2 87.7,53.4 90.4,55.5 93.0,57.5 95.7,59.3 98.4,61.2 101.1,63.0 103.7,64.7 106.4,66.6 109.1,68.4 111.8,70.2 114.4,72.0 117.1,73.8 119.8,75.5 122.5,77.3 125.1,79.1 127.8,81.0 130.5,83.0 133.2,84.9 135.8,86.9 138.5,88.9 141.2,90.9 143.9,92.9 146.5,95.0 149.2,97.0 151.9,99.0 154.6,101.0 157.2,103.0 159.9,104.9 162.6,106.9 165.3,108.8 167.9,110.9 170.6,112.9 173.3,115.0 176.0,117.1 178.6,119.2 181.3,121.3 184.0,123.5 186.7,125.6 189.3,127.8 192.0,129.9 194.7,131.9 197.4,133.8 200.0,135.7 202.7,137.5 205.4,139.3 208.1,141.1 210.7,142.9 213.4,144.6 216.1,146.4 218.8,148.1 221.4,149.7 224.1,151.3 226.8,152.9" fill="none" stroke="#0072BD" stroke-width="0.55" stroke-opacity="0.8" stroke-linejoin="round" stroke-linecap="round" />
<polyline points="42.2,15.6 44.9,16.8 47.5,18.2 50.2,19.8 52.9,21.4 55.5,23.2 58.2,25.2 60.9,27.6 63.5,30.1 66.2,32.8 68.9,35.5 71.5,38.3 74.2,41.1 76.9,43.7 79.5,46.1 82.2,48.5 84.9,50.7 87.5,52.9 90.2,55.0 92.9,56.9 95.5,58.8 98.2,60.6 100.9,62.4 103.5,64.2 106.2,66.0 108.9,67.8 111.5,69.6 114.2,71.4 116.9,73.2 119.5,74.9 122.2,76.7 124.9,78.5 127.5,80.4 130.2,82.4 132.9,84.3 135.5,86.3 138.2,88.3 140.9,90.3 143.5,92.4 146.2,94.4 148.9,96.5 151.5,98.5 154.2,100.5 156.9,102.5 159.5,104.5 162.2,106.5 164.9,108.5 167.5,110.5 170.2,112.6 172.9,114.7 175.5,116.8 178.2,119.0 180.9,121.1 183.5,123.3 186.2,125.5 188.9,127.7 191.5,129.8 194.2,131.9 196.9,133.9 199.5,135.8 202.2,137.7 204.9,139.6 207.5,141.4 210.2,143.2 212.9,145.0 215.5,146.8 218.2,148.6 220.9,150.3 223.5,152.0 226.2,153.6" fill="none" stroke="#4DBEEE" stroke-width="0.55" stroke-opacity="0.8" stroke-linejoin="round" stroke-linecap="round" />
<polyline points="42.2,15.6 44.8,16.8 47.5,18.2 50.1,19.8 52.8,21.4 55.4,23.1 58.1,25.1 60.7,27.6 63.4,30.2 66.0,33.0 68.7,35.8 71.3,38.6 74.0,41.5 76.6,44.2 79.3,46.7 81.9,49.2 84.6,51.5 87.2,53.7 89.9,55.9 92.5,57.9 95.2,59.8 97.8,61.7 100.5,63.6 103.1,65.4 105.8,67.2 108.4,69.1 111.1,71.0 113.7,72.8 116.4,74.6 119.0,76.4 121.7,78.2 124.3,80.0 127.0,82.0 129.6,83.9 132.3,85.9 134.9,87.9 137.6,89.9 140.2,92.0 142.9,94.0 145.5,96.1 148.2,98.1 150.8,100.2 153.5,102.2 156.1,104.2 158.8,106.2 161.4,108.2 164.1,110.2 166.7,112.2 169.4,114.2 172.0,116.3 174.7,118.5 177.3,120.6 180.0,122.7 182.6,124.9 185.3,127.0 187.9,129.2 190.6,131.4 193.2,133.5 195.9,135.4 198.5,137.4 201.2,139.3 203.8,141.1 206.5,142.9 209.1,144.7 211.8,146.5 214.4,148.2 217.1,150.0 219.7,151.7 222.4,153.4 225.0,155.0" fill="none" stroke="#0072BD" stroke-width="0.55" stroke-opacity="0.8" stroke-linejoin="round" stroke-linecap="round" />
<polyline points="42.0,15.5 44.2,16.7 46.4,17.9 48.7,19.3 50.9,20.7 53.1,22.1 55.3,23.6 57.6,25.2 59.8,26.9 62.0,28.8 64.2,31.1 66.5,33.7 68.7,36.4 70.9,39.1 73.1,41.7 75.3,44.3 77.6,47.0 79.8,49.7 82.0,52.5 84.2,55.3 86.5,58.1 88.7,60.9 90.9,63.6 93.1,66.4 95.3,69.1 97.6,71.9 99.8,74.6 102.0,77.3 104.2,79.9 106.5,82.5 108.7,85.1 110.9,87.6 113.1,90.0 115.4,92.4 117.6,94.9 119.8,97.3 122.0,99.7 124.2,102.2 126.5,104.8 128.7,107.3 130.9,109.8 133.1,112.2 135.4,114.6 137.6,116.8 139.8,119.0 142.0,120.9 144.2,122.9 146.5,124.7 148.7,126.5 150.9,128.3 153.1,130.0 155.4,131.5 157.6,133.1 159.8,134.5 162.0,135.8 164.3,137.1 166.5,138.3 168.7,139.5 170.9,140.7 173.1,141.7 175.4,142.8 177.6,143.8 179.8,144.7 182.0,145.6 184.3,146.5 186.5,147.3 188.7,148.2 190.9,148.9 193.1,149.7 195.4,150.4 197.6,151.1 199.8,151.8 202.0,152.5 204.3,153.2 206.5,153.9 208.7,154.6 210.9,155.2 213.2,155.9 215.4,156.5 217.6,157.1" fill="none" stroke="#D8708A" stroke-width="0.7" stroke-opacity="0.85" stroke-linejoin="round" stroke-linecap="round" />
<polyline points="42.0,15.5 44.1,16.7 46.3,17.9 48.4,19.2 50.6,20.5 52.7,21.9 54.9,23.3 57.0,24.8 59.2,26.5 61.3,28.2 63.4,30.0 65.6,31.7 67.7,33.4 69.9,35.1 72.0,36.7 74.2,38.3 76.3,39.9 78.5,41.4 80.6,43.0 82.7,44.5 84.9,46.0 87.0,47.5 89.2,48.9 91.3,50.4 93.5,51.7 95.6,53.0 97.8,54.3 99.9,55.6 102.0,56.9 104.2,58.4 106.3,60.0 108.5,61.8 110.6,63.7 112.8,65.6 114.9,67.6 117.1,69.6 119.2,71.6 121.3,73.7 123.5,75.8 125.6,78.0 127.8,80.3 129.9,82.5 132.1,84.9 134.2,87.3 136.3,89.7 138.5,92.2 140.6,94.8 142.8,97.5 144.9,100.3 147.1,103.1 149.2,105.9 151.4,108.5 153.5,111.2 155.6,113.8 157.8,116.3 159.9,118.8 162.1,121.3 164.2,123.7 166.4,126.0 168.5,128.4 170.7,130.6 172.8,132.9 174.9,135.0 177.1,137.1 179.2,139.2 181.4,141.4 183.5,143.5 185.7,145.7 187.8,147.8 190.0,150.0 192.1,152.1 194.2,154.3 196.4,156.6 198.5,158.8 200.7,160.8 202.8,162.6 205.0,164.3 207.1,165.9 209.3,167.4 211.4,168.8" fill="none" stroke="#D8708A" stroke-width="0.7" stroke-opacity="0.85" stroke-linejoin="round" stroke-linecap="round" />
<polyline points="42.2,15.6 44.3,16.5 46.4,17.6 48.5,18.7 50.6,20.0 52.7,21.3 54.8,22.7 56.9,24.3 59.0,26.0 61.1,27.8 63.2,29.5 65.3,31.4 67.4,33.3 69.5,35.1 71.6,36.8 73.7,38.5 75.8,40.2 77.9,41.9 80.0,43.5 82.1,45.1 84.2,46.8 86.3,48.5 88.4,50.1 90.5,51.8 92.6,53.5 94.7,55.2 96.8,56.8 98.9,58.5 101.0,60.0 103.1,61.5 105.2,63.0 107.3,64.5 109.4,66.1 111.5,67.7 113.6,69.5 115.7,71.3 117.8,73.1 119.9,75.0 122.0,76.9 124.1,78.7 126.3,80.5 128.4,82.3 130.5,84.0 132.6,85.6 134.7,87.2 136.8,88.9 138.9,90.4 141.0,92.0 143.1,93.6 145.2,95.2 147.3,96.8 149.4,98.5 151.5,100.2 153.6,101.8 155.7,103.4 157.8,105.1 159.9,106.7 162.0,108.4 164.1,110.1 166.2,111.8 168.3,113.6 170.4,115.5 172.5,117.4 174.6,119.5 176.7,121.6 178.8,123.8 180.9,126.1 183.0,128.6 185.1,131.2 187.2,133.9 189.3,137.1 191.4,140.6 193.5,144.4 195.6,148.1 197.7,151.5 199.8,154.8 201.9,157.9 204.0,160.9 206.1,163.9 208.2,166.7" fill="none" stroke="#4A9AD8" stroke-width="0.7" stroke-opacity="0.85" stroke-linejoin="round" stroke-linecap="round" />
<polyline points="42.2,15.6 44.9,16.8 47.5,18.2 50.2,19.8 52.8,21.4 55.5,23.1 58.1,25.1 60.8,27.3 63.4,29.4 66.1,31.6 68.7,33.9 71.4,36.1 74.0,38.4 76.7,40.5 79.3,42.4 82.0,44.1 84.6,45.7 87.3,47.3 89.9,48.7 92.6,50.0 95.2,51.2 97.9,52.3 100.5,53.3 103.2,54.4 105.8,55.4 108.5,56.5 111.1,57.6 113.8,58.6 116.4,59.6 119.1,60.5 121.7,61.5 124.4,62.4 127.0,63.5 129.7,64.6 132.3,65.7 135.0,66.8 137.6,68.0 140.3,69.1 142.9,70.2 145.6,71.4 148.2,72.5 150.9,73.7 153.5,74.8 156.2,75.8 158.8,76.9 161.5,77.9 164.1,79.0 166.8,80.0 169.4,81.1 172.1,82.2 174.7,83.4 177.4,84.6 180.0,85.7 182.7,86.9 185.3,88.1 188.0,89.2 190.6,90.4 193.3,91.5 195.9,92.5 198.6,93.4 201.2,94.3 203.9,95.1 206.5,95.9 209.2,96.6 211.8,97.4 214.5,98.1 217.1,98.8 219.8,99.5 222.4,100.1 225.1,100.7 227.7,101.2 230.4,101.7 233.0,102.1 235.7,102.5 238.3,102.9 241.0,103.3 243.6,103.7 246.3,104.0 248.9,104.3 251.6,104.6" fill="none" stroke="#FF0000" stroke-width="3.0" stroke-opacity="1" stroke-linejoin="round" stroke-linecap="round" />
</g>
<rect x="42.0" y="6.0" width="217.5" height="171.8" fill="none" stroke="#9a9a9a" stroke-width="1.0"/>
<line x1="62.7" y1="177.8" x2="62.7" y2="176.0" stroke="#9a9a9a" stroke-width="0.8"/>
<line x1="62.7" y1="6.0" x2="62.7" y2="7.8" stroke="#9a9a9a" stroke-width="0.8"/>
<text x="62.7" y="188.0" font-size="6.5" text-anchor="middle" fill="#383838" class="tk">12</text>
<line x1="101.2" y1="177.8" x2="101.2" y2="176.0" stroke="#9a9a9a" stroke-width="0.8"/>
<line x1="101.2" y1="6.0" x2="101.2" y2="7.8" stroke="#9a9a9a" stroke-width="0.8"/>
<text x="101.2" y="188.0" font-size="6.5" text-anchor="middle" fill="#383838" class="tk">12.5</text>
<line x1="139.7" y1="177.8" x2="139.7" y2="176.0" stroke="#9a9a9a" stroke-width="0.8"/>
<line x1="139.7" y1="6.0" x2="139.7" y2="7.8" stroke="#9a9a9a" stroke-width="0.8"/>
<text x="139.7" y="188.0" font-size="6.5" text-anchor="middle" fill="#383838" class="tk">13</text>
<line x1="178.2" y1="177.8" x2="178.2" y2="176.0" stroke="#9a9a9a" stroke-width="0.8"/>
<line x1="178.2" y1="6.0" x2="178.2" y2="7.8" stroke="#9a9a9a" stroke-width="0.8"/>
<text x="178.2" y="188.0" font-size="6.5" text-anchor="middle" fill="#383838" class="tk">13.5</text>
<line x1="216.7" y1="177.8" x2="216.7" y2="176.0" stroke="#9a9a9a" stroke-width="0.8"/>
<line x1="216.7" y1="6.0" x2="216.7" y2="7.8" stroke="#9a9a9a" stroke-width="0.8"/>
<text x="216.7" y="188.0" font-size="6.5" text-anchor="middle" fill="#383838" class="tk">14</text>
<line x1="255.2" y1="177.8" x2="255.2" y2="176.0" stroke="#9a9a9a" stroke-width="0.8"/>
<line x1="255.2" y1="6.0" x2="255.2" y2="7.8" stroke="#9a9a9a" stroke-width="0.8"/>
<text x="255.2" y="188.0" font-size="6.5" text-anchor="middle" fill="#383838" class="tk">14.5</text>
<line x1="42.0" y1="13.5" x2="43.8" y2="13.5" stroke="#9a9a9a" stroke-width="0.8"/>
<line x1="259.5" y1="13.5" x2="257.7" y2="13.5" stroke="#9a9a9a" stroke-width="0.8"/>
<text x="39.3" y="15.8" font-size="6.5" text-anchor="end" fill="#383838" class="tk">24.8</text>
<line x1="42.0" y1="28.9" x2="43.8" y2="28.9" stroke="#9a9a9a" stroke-width="0.8"/>
<line x1="259.5" y1="28.9" x2="257.7" y2="28.9" stroke="#9a9a9a" stroke-width="0.8"/>
<text x="39.3" y="31.2" font-size="6.5" text-anchor="end" fill="#383838" class="tk">24.6</text>
<line x1="42.0" y1="44.3" x2="43.8" y2="44.3" stroke="#9a9a9a" stroke-width="0.8"/>
<line x1="259.5" y1="44.3" x2="257.7" y2="44.3" stroke="#9a9a9a" stroke-width="0.8"/>
<text x="39.3" y="46.6" font-size="6.5" text-anchor="end" fill="#383838" class="tk">24.4</text>
<line x1="42.0" y1="59.6" x2="43.8" y2="59.6" stroke="#9a9a9a" stroke-width="0.8"/>
<line x1="259.5" y1="59.6" x2="257.7" y2="59.6" stroke="#9a9a9a" stroke-width="0.8"/>
<text x="39.3" y="62.0" font-size="6.5" text-anchor="end" fill="#383838" class="tk">24.2</text>
<line x1="42.0" y1="75.0" x2="43.8" y2="75.0" stroke="#9a9a9a" stroke-width="0.8"/>
<line x1="259.5" y1="75.0" x2="257.7" y2="75.0" stroke="#9a9a9a" stroke-width="0.8"/>
<text x="39.3" y="77.4" font-size="6.5" text-anchor="end" fill="#383838" class="tk">24</text>
<line x1="42.0" y1="90.4" x2="43.8" y2="90.4" stroke="#9a9a9a" stroke-width="0.8"/>
<line x1="259.5" y1="90.4" x2="257.7" y2="90.4" stroke="#9a9a9a" stroke-width="0.8"/>
<text x="39.3" y="92.7" font-size="6.5" text-anchor="end" fill="#383838" class="tk">23.8</text>
<line x1="42.0" y1="105.8" x2="43.8" y2="105.8" stroke="#9a9a9a" stroke-width="0.8"/>
<line x1="259.5" y1="105.8" x2="257.7" y2="105.8" stroke="#9a9a9a" stroke-width="0.8"/>
<text x="39.3" y="108.1" font-size="6.5" text-anchor="end" fill="#383838" class="tk">23.6</text>
<line x1="42.0" y1="121.2" x2="43.8" y2="121.2" stroke="#9a9a9a" stroke-width="0.8"/>
<line x1="259.5" y1="121.2" x2="257.7" y2="121.2" stroke="#9a9a9a" stroke-width="0.8"/>
<text x="39.3" y="123.5" font-size="6.5" text-anchor="end" fill="#383838" class="tk">23.4</text>
<line x1="42.0" y1="136.5" x2="43.8" y2="136.5" stroke="#9a9a9a" stroke-width="0.8"/>
<line x1="259.5" y1="136.5" x2="257.7" y2="136.5" stroke="#9a9a9a" stroke-width="0.8"/>
<text x="39.3" y="138.9" font-size="6.5" text-anchor="end" fill="#383838" class="tk">23.2</text>
<line x1="42.0" y1="151.9" x2="43.8" y2="151.9" stroke="#9a9a9a" stroke-width="0.8"/>
<line x1="259.5" y1="151.9" x2="257.7" y2="151.9" stroke="#9a9a9a" stroke-width="0.8"/>
<text x="39.3" y="154.3" font-size="6.5" text-anchor="end" fill="#383838" class="tk">23</text>
<line x1="42.0" y1="167.3" x2="43.8" y2="167.3" stroke="#9a9a9a" stroke-width="0.8"/>
<line x1="259.5" y1="167.3" x2="257.7" y2="167.3" stroke="#9a9a9a" stroke-width="0.8"/>
<text x="39.3" y="169.6" font-size="6.5" text-anchor="end" fill="#383838" class="tk">22.8</text>
<line x1="98.8" y1="113.2" x2="146" y2="72.5" stroke="#333" stroke-width="0.9"/>
<circle cx="189.3" cy="118" r="12.6" fill="none" stroke="#333" stroke-width="0.9"/>
<line x1="183" y1="129" x2="167.7" y2="151.4" stroke="#333" stroke-width="0.9"/>
<text x="60.6" y="127.1" class="an" font-size="12.5" textLength="66.9" lengthAdjust="spacingAndGlyphs">Optimal path</text>
<text x="100.8" y="162.9" class="an" font-size="12.5" textLength="80.9" lengthAdjust="spacingAndGlyphs">Path candidates</text>
<text x="128.2" y="23.1" class="mono" font-size="11" textLength="107.4" lengthAdjust="spacing" xml:space="preserve">W = [0.2 0.5 0]</text>
<text x="11.8" y="92.4" class="lb" font-size="12.4" text-anchor="middle" textLength="7.2" lengthAdjust="spacingAndGlyphs">y</text>
<text x="12.1" y="108.4" class="lb" font-size="12.4" text-anchor="middle" textLength="18.7" lengthAdjust="spacingAndGlyphs">(m)</text>
<text x="139.2" y="198.5" class="lb" font-size="12.8" text-anchor="middle" textLength="26.5" lengthAdjust="spacingAndGlyphs">x(m)</text>
<line x1="341.6" y1="4.0" x2="341.6" y2="179.6" stroke="#ececec" stroke-width="0.7"/>
<line x1="381.4" y1="4.0" x2="381.4" y2="179.6" stroke="#ececec" stroke-width="0.7"/>
<line x1="421.1" y1="4.0" x2="421.1" y2="179.6" stroke="#ececec" stroke-width="0.7"/>
<line x1="460.9" y1="4.0" x2="460.9" y2="179.6" stroke="#ececec" stroke-width="0.7"/>
<line x1="500.6" y1="4.0" x2="500.6" y2="179.6" stroke="#ececec" stroke-width="0.7"/>
<line x1="320.4" y1="14.0" x2="542.1" y2="14.0" stroke="#ececec" stroke-width="0.7"/>
<line x1="320.4" y1="29.9" x2="542.1" y2="29.9" stroke="#ececec" stroke-width="0.7"/>
<line x1="320.4" y1="45.9" x2="542.1" y2="45.9" stroke="#ececec" stroke-width="0.7"/>
<line x1="320.4" y1="61.8" x2="542.1" y2="61.8" stroke="#ececec" stroke-width="0.7"/>
<line x1="320.4" y1="77.8" x2="542.1" y2="77.8" stroke="#ececec" stroke-width="0.7"/>
<line x1="320.4" y1="93.7" x2="542.1" y2="93.7" stroke="#ececec" stroke-width="0.7"/>
<line x1="320.4" y1="109.6" x2="542.1" y2="109.6" stroke="#ececec" stroke-width="0.7"/>
<line x1="320.4" y1="125.6" x2="542.1" y2="125.6" stroke="#ececec" stroke-width="0.7"/>
<line x1="320.4" y1="141.5" x2="542.1" y2="141.5" stroke="#ececec" stroke-width="0.7"/>
<line x1="320.4" y1="157.5" x2="542.1" y2="157.5" stroke="#ececec" stroke-width="0.7"/>
<line x1="320.4" y1="173.4" x2="542.1" y2="173.4" stroke="#ececec" stroke-width="0.7"/>
<clipPath id="c2"><rect x="320.4" y="4.0" width="221.70000000000005" height="175.6"/></clipPath>
<g clip-path="url(#c2)">
<polyline points="320.6,16.0 322.6,17.2 324.7,18.5 326.7,19.8 328.7,21.1 330.8,22.5 332.8,23.9 334.8,25.4 336.8,26.9 338.9,28.4 340.9,29.9 342.9,31.4 345.0,32.9 347.0,34.4 349.0,35.8 351.1,37.2 353.1,38.6 355.1,39.9 357.1,41.3 359.2,42.6 361.2,44.0 363.2,45.4 365.3,46.8 367.3,48.3 369.3,49.9 371.4,51.3 373.4,52.8 375.4,54.1 377.4,55.4 379.5,56.8 381.5,58.1 383.5,59.3 385.6,60.5 387.6,61.6 389.6,62.5 391.7,63.5 393.7,64.3 395.7,65.1 397.8,65.9 399.8,66.6 401.8,67.3 403.8,67.9 405.9,68.4 407.9,68.9 409.9,69.4 412.0,69.8 414.0,70.2 416.0,70.6 418.1,71.0 420.1,71.3 422.1,71.7 424.1,72.0 426.2,72.4 428.2,72.7 430.2,73.0 432.3,73.3 434.3,73.6 436.3,73.8 438.4,74.1 440.4,74.3 442.4,74.5 444.4,74.7 446.5,74.9 448.5,75.1 450.5,75.3 452.6,75.5 454.6,75.6 456.6,75.7 458.7,75.8 460.7,75.9 462.7,75.9 464.7,75.9 466.8,75.9 468.8,76.0 470.8,76.0 472.9,76.0 474.9,76.0 476.9,76.0 479.0,76.0 481.0,76.0 483.0,76.0 485.1,75.9 487.1,75.8 489.1,75.7 491.1,75.6 493.2,75.5 495.2,75.4 497.2,75.3 499.3,75.3 501.3,75.3 503.3,75.4 505.4,75.6 507.4,75.7 509.4,75.9 511.4,76.1 513.5,76.4 515.5,76.7 517.5,77.1 519.6,77.5 521.6,77.9 523.6,78.3 525.7,78.7 527.7,79.1 529.7,79.5 531.7,79.9 533.8,80.2 535.8,80.6 537.8,81.0 539.9,81.4 541.9,81.8" fill="none" stroke="#B77FC0" stroke-width="0.7" stroke-opacity="0.85" stroke-linejoin="round" stroke-linecap="round" />
<polyline points="320.6,16.0 322.4,17.1 324.3,18.2 326.1,19.4 328.0,20.6 329.8,21.9 331.7,23.1 333.5,24.4 335.4,25.8 337.2,27.2 339.1,28.7 340.9,30.1 342.8,31.7 344.6,33.3 346.5,34.9 348.3,36.5 350.2,38.1 352.0,39.8 353.9,41.4 355.7,43.1 357.6,44.8 359.4,46.4 361.2,47.9 363.1,49.4 364.9,50.8 366.8,52.2 368.6,53.5 370.5,54.8 372.3,56.1 374.2,57.3 376.0,58.5 377.9,59.6 379.7,60.7 381.6,61.8 383.4,62.9 385.3,63.9 387.1,64.9 389.0,65.8 390.8,66.7 392.7,67.6 394.5,68.4 396.4,69.2 398.2,70.0 400.1,70.8 401.9,71.5 403.7,72.3 405.6,73.0 407.4,73.6 409.3,74.3 411.1,74.9 413.0,75.6 414.8,76.2 416.7,76.9 418.5,77.6 420.4,78.4 422.2,79.3 424.1,80.2 425.9,81.0 427.8,81.8 429.6,82.5 431.5,83.1 433.3,83.6 435.2,84.1 437.0,84.6 438.9,85.1 440.7,85.5 442.5,85.8 444.4,86.1 446.2,86.4 448.1,86.6 449.9,86.9 451.8,87.1 453.6,87.3 455.5,87.4 457.3,87.4 459.2,87.4 461.0,87.3 462.9,87.2 464.7,87.1 466.6,86.9 468.4,86.7 470.3,86.6 472.1,86.4 474.0,86.1 475.8,85.8 477.7,85.4 479.5,85.0 481.4,84.5 483.2,84.1 485.0,83.5 486.9,83.0 488.7,82.3 490.6,81.6 492.4,80.9 494.3,80.1 496.1,79.2 498.0,78.4 499.8,77.5 501.7,76.6 503.5,75.7 505.4,74.8 507.2,73.8 509.1,72.8 510.9,71.7 512.8,70.6 514.6,69.4 516.5,68.2 518.3,67.0 520.2,65.7 522.0,64.4" fill="none" stroke="#C0506A" stroke-width="0.7" stroke-opacity="0.85" stroke-linejoin="round" stroke-linecap="round" />
<polyline points="320.6,16.0 322.6,17.2 324.5,18.4 326.5,19.6 328.5,20.9 330.5,22.3 332.4,23.7 334.4,25.1 336.4,26.6 338.4,28.1 340.3,29.7 342.3,31.4 344.3,33.2 346.2,35.0 348.2,36.8 350.2,38.7 352.2,40.6 354.1,42.6 356.1,44.6 358.1,46.6 360.0,48.6 362.0,50.5 364.0,52.4 366.0,54.2 367.9,56.0 369.9,57.7 371.9,59.4 373.9,61.0 375.8,62.5 377.8,64.0 379.8,65.4 381.7,66.8 383.7,68.1 385.7,69.4 387.7,70.6 389.6,71.8 391.6,73.0 393.6,74.2 395.6,75.3 397.5,76.4 399.5,77.5 401.5,78.5 403.4,79.4 405.4,80.3 407.4,81.2 409.4,82.0 411.3,82.7 413.3,83.5 415.3,84.2 417.3,84.9 419.2,85.5 421.2,86.2 423.2,86.8 425.1,87.4 427.1,87.9 429.1,88.5 431.1,89.1 433.0,89.8 435.0,90.4 437.0,91.0 438.9,91.6 440.9,92.0 442.9,92.5 444.9,92.9 446.8,93.3 448.8,93.6 450.8,93.7 452.8,93.7 454.7,93.6 456.7,93.5 458.7,93.4 460.6,93.2 462.6,93.0 464.6,92.8 466.6,92.6 468.5,92.4 470.5,92.0 472.5,91.7 474.5,91.3 476.4,90.9 478.4,90.4 480.4,89.9 482.3,89.5 484.3,89.0 486.3,88.5 488.3,87.9 490.2,87.3 492.2,86.7 494.2,86.1 496.2,85.4 498.1,84.8 500.1,84.2 502.1,83.5 504.0,82.9 506.0,82.3 508.0,81.7 510.0,81.1 511.9,80.5 513.9,79.9 515.9,79.3 517.8,78.7 519.8,78.1 521.8,77.5 523.8,76.9 525.7,76.3 527.7,75.7 529.7,75.1 531.7,74.5 533.6,74.0 535.6,73.4" fill="none" stroke="#C0506A" stroke-width="0.7" stroke-opacity="0.85" stroke-linejoin="round" stroke-linecap="round" />
<polyline points="320.6,16.0 322.9,17.4 325.1,18.8 327.4,20.2 329.7,21.7 331.9,23.3 334.2,24.9 336.4,26.5 338.7,28.2 341.0,29.5 343.2,30.7 345.5,32.4 347.8,34.3 350.0,36.6 352.3,39.2 354.5,41.9 356.8,44.7 359.1,47.6 361.3,50.5 363.6,53.2 365.9,55.9 368.1,58.5 370.4,61.2 372.6,63.7 374.9,66.1 377.2,68.4 379.4,70.5 381.7,72.4 384.0,73.9 386.2,75.3 388.5,76.6 390.8,78.0 393.0,79.3 395.3,80.6 397.5,81.8 399.8,82.9 402.1,84.1 404.3,85.1 406.6,86.1 408.9,87.1 411.1,88.0 413.4,88.8 415.6,89.5 417.9,90.2 420.2,90.8 422.4,91.3 424.7,91.7 427.0,92.1 429.2,92.3 431.5,92.6 433.7,92.8 436.0,93.0 438.3,93.1 440.5,93.3 442.8,93.6 445.1,93.8 447.3,94.1 449.6,94.3 451.8,94.5 454.1,94.7 456.4,94.9 458.6,95.0 460.9,95.0 463.2,95.0 465.4,94.9 467.7,94.8 470.0,94.6 472.2,94.4 474.5,94.1 476.7,93.8 479.0,93.4 481.3,93.0 483.5,92.6 485.8,92.1 488.1,91.6 490.3,91.1 492.6,90.5 494.8,89.9 497.1,89.3 499.4,88.6 501.6,87.9 503.9,87.2 506.2,86.5 508.4,85.8 510.7,85.0 512.9,84.3 515.2,83.5 517.5,82.7 519.7,81.9 522.0,81.1" fill="none" stroke="#77AC30" stroke-width="0.55" stroke-opacity="0.8" stroke-linejoin="round" stroke-linecap="round" />
<polyline points="320.6,16.0 322.9,17.4 325.2,18.8 327.5,20.3 329.7,21.8 332.0,23.4 334.3,25.0 336.6,26.6 338.9,28.3 341.2,29.6 343.5,30.9 345.8,32.7 348.0,34.7 350.3,37.1 352.6,39.7 354.9,42.5 357.2,45.4 359.5,48.3 361.8,51.2 364.0,54.0 366.3,56.7 368.6,59.4 370.9,62.0 373.2,64.6 375.5,67.0 377.8,69.3 380.0,71.4 382.3,73.2 384.6,74.8 386.9,76.2 389.2,77.5 391.5,78.9 393.8,80.3 396.1,81.5 398.3,82.8 400.6,84.0 402.9,85.1 405.2,86.2 407.5,87.2 409.8,88.2 412.1,89.1 414.3,89.9 416.6,90.7 418.9,91.3 421.2,91.9 423.5,92.5 425.8,92.9 428.1,93.3 430.4,93.6 432.6,93.9 434.9,94.1 437.2,94.3 439.5,94.6 441.8,94.9 444.1,95.2 446.4,95.5 448.6,95.8 450.9,96.1 453.2,96.4 455.5,96.6 457.8,96.9 460.1,97.0 462.4,97.0 464.7,97.1 466.9,97.0 469.2,97.0 471.5,96.9 473.8,96.7 476.1,96.5 478.4,96.3 480.7,96.0 482.9,95.7 485.2,95.3 487.5,94.9 489.8,94.5 492.1,94.1 494.4,93.6 496.7,93.1 498.9,92.6 501.2,92.0 503.5,91.5 505.8,90.9 508.1,90.3 510.4,89.7 512.7,89.1 515.0,88.5 517.2,87.8 519.5,87.2 521.8,86.6 524.1,85.9" fill="none" stroke="#7E2F8E" stroke-width="0.55" stroke-opacity="0.8" stroke-linejoin="round" stroke-linecap="round" />
<polyline points="320.6,16.0 323.0,17.4 325.4,18.9 327.7,20.5 330.1,22.1 332.5,23.7 334.9,25.4 337.3,27.1 339.6,29.0 342.0,30.1 344.4,31.7 346.8,33.7 349.2,36.0 351.5,38.7 353.9,41.6 356.3,44.5 358.7,47.7 361.1,50.8 363.4,53.7 365.8,56.6 368.2,59.4 370.6,62.2 373.0,64.9 375.3,67.5 377.7,69.9 380.1,72.1 382.5,74.0 384.9,75.7 387.2,77.1 389.6,78.6 392.0,80.1 394.4,81.5 396.8,82.8 399.1,84.1 401.5,85.4 403.9,86.6 406.3,87.8 408.7,88.9 411.0,89.9 413.4,90.8 415.8,91.7 418.2,92.4 420.6,93.1 422.9,93.7 425.3,94.3 427.7,94.7 430.1,95.1 432.4,95.4 434.8,95.8 437.2,96.0 439.6,96.4 442.0,96.7 444.3,97.1 446.7,97.5 449.1,97.9 451.5,98.3 453.9,98.6 456.2,99.0 458.6,99.2 461.0,99.4 463.4,99.6 465.8,99.6 468.1,99.7 470.5,99.7 472.9,99.6 475.3,99.5 477.7,99.4 480.0,99.2 482.4,99.0 484.8,98.7 487.2,98.4 489.6,98.1 491.9,97.8 494.3,97.4 496.7,97.0 499.1,96.6 501.5,96.1 503.8,95.7 506.2,95.2 508.6,94.7 511.0,94.2 513.4,93.7 515.7,93.2 518.1,92.7 520.5,92.2 522.9,91.7 525.3,91.1 527.6,90.6 530.0,90.1 532.4,89.5" fill="none" stroke="#4DBEEE" stroke-width="0.55" stroke-opacity="0.8" stroke-linejoin="round" stroke-linecap="round" />
<polyline points="320.6,16.0 322.9,17.4 325.2,18.9 327.6,20.4 329.9,21.9 332.2,23.5 334.5,25.1 336.8,26.8 339.2,28.6 341.5,29.8 343.8,31.3 346.1,33.1 348.4,35.3 350.7,37.8 353.1,40.6 355.4,43.4 357.7,46.4 360.0,49.5 362.3,52.4 364.7,55.2 367.0,58.0 369.3,60.7 371.6,63.4 373.9,66.0 376.3,68.4 378.6,70.7 380.9,72.8 383.2,74.6 385.5,76.1 387.9,77.5 390.2,79.0 392.5,80.4 394.8,81.8 397.1,83.1 399.4,84.3 401.8,85.6 404.1,86.7 406.4,87.9 408.7,89.0 411.0,89.9 413.4,90.9 415.7,91.7 418.0,92.4 420.3,93.1 422.6,93.7 425.0,94.3 427.3,94.7 429.6,95.1 431.9,95.5 434.2,95.8 436.6,96.1 438.9,96.4 441.2,96.7 443.5,97.1 445.8,97.5 448.2,97.9 450.5,98.3 452.8,98.7 455.1,99.0 457.4,99.3 459.7,99.6 462.1,99.7 464.4,99.8 466.7,99.9 469.0,99.9 471.3,99.9 473.7,99.9 476.0,99.8 478.3,99.6 480.6,99.5 482.9,99.3 485.3,99.0 487.6,98.8 489.9,98.5 492.2,98.1 494.5,97.8 496.9,97.4 499.2,97.0 501.5,96.6 503.8,96.2 506.1,95.7 508.4,95.3 510.8,94.8 513.1,94.4 515.4,93.9 517.7,93.4 520.0,93.0 522.4,92.5 524.7,92.0 527.0,91.5" fill="none" stroke="#0072BD" stroke-width="0.55" stroke-opacity="0.8" stroke-linejoin="round" stroke-linecap="round" />
<polyline points="320.6,16.0 322.9,17.4 325.3,18.9 327.6,20.4 329.9,21.9 332.3,23.5 334.6,25.1 336.9,26.8 339.2,28.6 341.6,29.9 343.9,31.4 346.2,33.3 348.6,35.6 350.9,38.1 353.2,40.9 355.6,43.8 357.9,46.8 360.2,49.9 362.5,52.9 364.9,55.7 367.2,58.5 369.5,61.3 371.9,64.0 374.2,66.6 376.5,69.1 378.9,71.4 381.2,73.4 383.5,75.2 385.8,76.7 388.2,78.2 390.5,79.6 392.8,81.1 395.2,82.5 397.5,83.8 399.8,85.1 402.2,86.3 404.5,87.5 406.8,88.7 409.2,89.8 411.5,90.8 413.8,91.7 416.1,92.5 418.5,93.3 420.8,94.0 423.1,94.6 425.5,95.2 427.8,95.6 430.1,96.0 432.5,96.4 434.8,96.8 437.1,97.1 439.4,97.4 441.8,97.8 444.1,98.2 446.4,98.7 448.8,99.1 451.1,99.5 453.4,99.9 455.8,100.3 458.1,100.6 460.4,100.8 462.8,101.0 465.1,101.2 467.4,101.3 469.7,101.3 472.1,101.3 474.4,101.3 476.7,101.2 479.1,101.1 481.4,101.0 483.7,100.8 486.1,100.6 488.4,100.4 490.7,100.1 493.0,99.8 495.4,99.5 497.7,99.2 500.0,98.9 502.4,98.5 504.7,98.1 507.0,97.7 509.4,97.3 511.7,96.9 514.0,96.5 516.3,96.1 518.7,95.7 521.0,95.3 523.3,94.9 525.7,94.4 528.0,94.0" fill="none" stroke="#EDB120" stroke-width="0.55" stroke-opacity="0.8" stroke-linejoin="round" stroke-linecap="round" />
<polyline points="320.6,16.0 322.9,17.4 325.2,18.8 327.5,20.3 329.8,21.9 332.1,23.5 334.4,25.1 336.8,26.7 339.1,28.5 341.4,29.8 343.7,31.4 346.0,33.3 348.3,35.4 350.6,38.0 352.9,40.8 355.2,43.6 357.5,46.6 359.8,49.7 362.1,52.7 364.4,55.6 366.8,58.3 369.1,61.1 371.4,63.9 373.7,66.5 376.0,69.0 378.3,71.3 380.6,73.4 382.9,75.3 385.2,76.9 387.5,78.3 389.8,79.8 392.1,81.2 394.5,82.6 396.8,84.0 399.1,85.3 401.4,86.6 403.7,87.8 406.0,88.9 408.3,90.1 410.6,91.1 412.9,92.1 415.2,93.0 417.5,93.8 419.8,94.5 422.1,95.2 424.5,95.8 426.8,96.3 429.1,96.7 431.4,97.1 433.7,97.5 436.0,97.8 438.3,98.2 440.6,98.5 442.9,99.0 445.2,99.4 447.5,99.9 449.8,100.3 452.1,100.7 454.5,101.1 456.8,101.5 459.1,101.8 461.4,102.0 463.7,102.2 466.0,102.3 468.3,102.4 470.6,102.5 472.9,102.5 475.2,102.5 477.5,102.4 479.8,102.3 482.2,102.2 484.5,102.1 486.8,101.9 489.1,101.6 491.4,101.4 493.7,101.1 496.0,100.8 498.3,100.5 500.6,100.2 502.9,99.8 505.2,99.5 507.5,99.1 509.8,98.7 512.2,98.3 514.5,98.0 516.8,97.6 519.1,97.2 521.4,96.8 523.7,96.4 526.0,96.0" fill="none" stroke="#A2142F" stroke-width="0.55" stroke-opacity="0.8" stroke-linejoin="round" stroke-linecap="round" />
<polyline points="320.6,16.0 322.9,17.4 325.2,18.9 327.6,20.4 329.9,21.9 332.2,23.5 334.5,25.1 336.9,26.8 339.2,28.6 341.5,29.9 343.8,31.6 346.2,33.5 348.5,35.8 350.8,38.4 353.1,41.2 355.5,44.1 357.8,47.2 360.1,50.4 362.4,53.4 364.8,56.2 367.1,59.0 369.4,61.9 371.7,64.6 374.1,67.3 376.4,69.8 378.7,72.1 381.0,74.2 383.4,76.0 385.7,77.6 388.0,79.1 390.3,80.6 392.7,82.1 395.0,83.5 397.3,84.9 399.6,86.2 402.0,87.5 404.3,88.7 406.6,89.9 408.9,91.0 411.3,92.1 413.6,93.0 415.9,93.9 418.2,94.7 420.6,95.4 422.9,96.1 425.2,96.7 427.5,97.2 429.9,97.7 432.2,98.1 434.5,98.5 436.8,98.8 439.2,99.2 441.5,99.6 443.8,100.1 446.1,100.6 448.5,101.0 450.8,101.5 453.1,101.9 455.4,102.4 457.8,102.7 460.1,103.0 462.4,103.3 464.7,103.5 467.1,103.6 469.4,103.7 471.7,103.8 474.0,103.8 476.4,103.8 478.7,103.8 481.0,103.7 483.3,103.6 485.7,103.5 488.0,103.3 490.3,103.1 492.6,102.8 495.0,102.6 497.3,102.3 499.6,102.0 501.9,101.7 504.3,101.4 506.6,101.1 508.9,100.8 511.2,100.4 513.6,100.1 515.9,99.7 518.2,99.4 520.5,99.1 522.9,98.7 525.2,98.4 527.5,98.0" fill="none" stroke="#D95319" stroke-width="0.55" stroke-opacity="0.8" stroke-linejoin="round" stroke-linecap="round" />
<polyline points="320.6,16.0 322.9,17.4 325.2,18.8 327.5,20.3 329.8,21.9 332.1,23.5 334.4,25.1 336.8,26.7 339.1,28.5 341.4,29.9 343.7,31.5 346.0,33.5 348.3,35.7 350.6,38.3 352.9,41.2 355.2,44.1 357.5,47.1 359.8,50.3 362.1,53.3 364.4,56.2 366.8,59.0 369.1,61.8 371.4,64.6 373.7,67.3 376.0,69.8 378.3,72.2 380.6,74.4 382.9,76.2 385.2,77.9 387.5,79.4 389.8,80.9 392.1,82.4 394.5,83.8 396.8,85.2 399.1,86.5 401.4,87.8 403.7,89.1 406.0,90.3 408.3,91.5 410.6,92.5 412.9,93.5 415.2,94.5 417.5,95.3 419.8,96.1 422.1,96.8 424.5,97.4 426.8,98.0 429.1,98.4 431.4,98.9 433.7,99.3 436.0,99.7 438.3,100.1 440.6,100.5 442.9,101.0 445.2,101.5 447.5,101.9 449.8,102.4 452.1,102.9 454.5,103.3 456.8,103.7 459.1,104.1 461.4,104.4 463.7,104.6 466.0,104.8 468.3,104.9 470.6,105.0 472.9,105.1 475.2,105.1 477.5,105.1 479.8,105.1 482.2,105.0 484.5,104.9 486.8,104.8 489.1,104.6 491.4,104.4 493.7,104.2 496.0,104.0 498.3,103.7 500.6,103.4 502.9,103.1 505.2,102.8 507.5,102.5 509.8,102.2 512.2,101.9 514.5,101.6 516.8,101.3 519.1,101.0 521.4,100.7 523.7,100.3 526.0,100.0" fill="none" stroke="#7E2F8E" stroke-width="0.55" stroke-opacity="0.8" stroke-linejoin="round" stroke-linecap="round" />
<polyline points="320.6,16.0 322.9,17.4 325.3,18.9 327.6,20.4 329.9,21.9 332.3,23.5 334.6,25.1 336.9,26.8 339.2,28.6 341.6,30.1 343.9,31.8 346.2,33.9 348.6,36.2 350.9,38.9 353.2,41.8 355.6,44.8 357.9,48.0 360.2,51.2 362.5,54.2 364.9,57.1 367.2,60.0 369.5,62.9 371.9,65.7 374.2,68.4 376.5,70.9 378.9,73.3 381.2,75.5 383.5,77.3 385.8,78.9 388.2,80.5 390.5,82.0 392.8,83.5 395.2,85.0 397.5,86.4 399.8,87.8 402.2,89.1 404.5,90.4 406.8,91.6 409.2,92.8 411.5,93.8 413.8,94.8 416.1,95.8 418.5,96.6 420.8,97.4 423.1,98.1 425.5,98.7 427.8,99.3 430.1,99.8 432.5,100.2 434.8,100.6 437.1,101.0 439.4,101.4 441.8,101.9 444.1,102.5 446.4,103.0 448.8,103.5 451.1,104.0 453.4,104.4 455.8,104.9 458.1,105.3 460.4,105.7 462.8,105.9 465.1,106.2 467.4,106.4 469.7,106.5 472.1,106.6 474.4,106.7 476.7,106.7 479.1,106.7 481.4,106.7 483.7,106.6 486.1,106.5 488.4,106.4 490.7,106.2 493.0,106.1 495.4,105.9 497.7,105.6 500.0,105.4 502.4,105.1 504.7,104.9 507.0,104.6 509.4,104.3 511.7,104.0 514.0,103.8 516.3,103.5 518.7,103.2 521.0,102.9 523.3,102.6 525.7,102.3 528.0,102.0" fill="none" stroke="#4DBEEE" stroke-width="0.55" stroke-opacity="0.8" stroke-linejoin="round" stroke-linecap="round" />
<polyline points="320.6,16.0 322.9,17.4 325.2,18.8 327.5,20.3 329.8,21.8 332.1,23.4 334.4,25.0 336.7,26.6 339.0,28.4 341.3,29.9 343.6,31.6 345.9,33.7 348.2,35.9 350.5,38.6 352.8,41.5 355.0,44.4 357.3,47.5 359.6,50.7 361.9,53.8 364.2,56.7 366.5,59.6 368.8,62.4 371.1,65.2 373.4,68.0 375.7,70.5 378.0,72.9 380.3,75.2 382.6,77.1 384.9,78.8 387.2,80.4 389.5,81.9 391.8,83.4 394.1,84.9 396.4,86.4 398.7,87.8 401.0,89.1 403.3,90.4 405.6,91.6 407.9,92.8 410.2,94.0 412.5,95.0 414.8,96.0 417.1,96.9 419.4,97.7 421.7,98.5 423.9,99.1 426.2,99.8 428.5,100.3 430.8,100.8 433.1,101.2 435.4,101.7 437.7,102.1 440.0,102.5 442.3,103.0 444.6,103.6 446.9,104.1 449.2,104.6 451.5,105.1 453.8,105.6 456.1,106.0 458.4,106.5 460.7,106.8 463.0,107.1 465.3,107.3 467.6,107.5 469.9,107.7 472.2,107.8 474.5,107.9 476.8,108.0 479.1,108.0 481.4,108.0 483.7,107.9 486.0,107.8 488.3,107.7 490.6,107.6 492.8,107.4 495.1,107.3 497.4,107.1 499.7,106.8 502.0,106.6 504.3,106.3 506.6,106.1 508.9,105.8 511.2,105.6 513.5,105.3 515.8,105.1 518.1,104.8 520.4,104.5 522.7,104.3 525.0,104.0" fill="none" stroke="#77AC30" stroke-width="0.55" stroke-opacity="0.8" stroke-linejoin="round" stroke-linecap="round" />
<polyline points="320.6,16.0 322.9,17.4 325.2,18.9 327.6,20.4 329.9,21.9 332.2,23.5 334.5,25.1 336.8,26.8 339.2,28.6 341.5,30.1 343.8,31.9 346.1,34.0 348.4,36.4 350.7,39.1 353.1,42.1 355.4,45.1 357.7,48.2 360.0,51.5 362.3,54.6 364.7,57.5 367.0,60.5 369.3,63.4 371.6,66.2 373.9,69.0 376.3,71.5 378.6,74.0 380.9,76.2 383.2,78.1 385.5,79.7 387.9,81.3 390.2,82.9 392.5,84.4 394.8,86.0 397.1,87.4 399.4,88.8 401.8,90.2 404.1,91.5 406.4,92.7 408.7,93.9 411.0,95.1 413.4,96.1 415.7,97.1 418.0,98.0 420.3,98.8 422.6,99.5 425.0,100.2 427.3,100.8 429.6,101.4 431.9,101.8 434.2,102.3 436.6,102.7 438.9,103.2 441.2,103.7 443.5,104.2 445.8,104.8 448.2,105.3 450.5,105.9 452.8,106.4 455.1,106.9 457.4,107.4 459.7,107.7 462.1,108.1 464.4,108.3 466.7,108.6 469.0,108.8 471.3,109.0 473.7,109.1 476.0,109.2 478.3,109.2 480.6,109.2 482.9,109.2 485.3,109.2 487.6,109.1 489.9,109.0 492.2,108.8 494.5,108.7 496.9,108.5 499.2,108.3 501.5,108.1 503.8,107.9 506.1,107.7 508.4,107.4 510.8,107.2 513.1,107.0 515.4,106.7 517.7,106.5 520.0,106.2 522.4,106.0 524.7,105.8 527.0,105.5" fill="none" stroke="#A2142F" stroke-width="0.55" stroke-opacity="0.8" stroke-linejoin="round" stroke-linecap="round" />
<polyline points="320.6,16.0 322.9,17.4 325.2,18.9 327.6,20.4 329.9,21.9 332.2,23.5 334.5,25.1 336.8,26.8 339.2,28.6 341.5,30.2 343.8,32.0 346.1,34.2 348.4,36.6 350.7,39.3 353.1,42.3 355.4,45.3 357.7,48.6 360.0,51.8 362.3,54.9 364.7,57.9 367.0,60.9 369.3,63.8 371.6,66.7 373.9,69.4 376.3,72.0 378.6,74.5 380.9,76.7 383.2,78.7 385.5,80.3 387.9,81.9 390.2,83.5 392.5,85.1 394.8,86.6 397.1,88.1 399.4,89.5 401.8,90.9 404.1,92.2 406.4,93.5 408.7,94.8 411.0,95.9 413.4,97.0 415.7,98.0 418.0,98.9 420.3,99.7 422.6,100.5 425.0,101.2 427.3,101.8 429.6,102.4 431.9,102.9 434.2,103.4 436.6,103.8 438.9,104.3 441.2,104.8 443.5,105.4 445.8,105.9 448.2,106.5 450.5,107.0 452.8,107.6 455.1,108.1 457.4,108.6 459.7,109.0 462.1,109.4 464.4,109.7 466.7,109.9 469.0,110.2 471.3,110.4 473.7,110.5 476.0,110.6 478.3,110.7 480.6,110.7 482.9,110.7 485.3,110.7 487.6,110.6 489.9,110.5 492.2,110.4 494.5,110.3 496.9,110.2 499.2,110.0 501.5,109.8 503.8,109.6 506.1,109.4 508.4,109.2 510.8,109.0 513.1,108.8 515.4,108.6 517.7,108.4 520.0,108.2 522.4,107.9 524.7,107.7 527.0,107.5" fill="none" stroke="#0072BD" stroke-width="0.55" stroke-opacity="0.8" stroke-linejoin="round" stroke-linecap="round" />
<polyline points="320.6,16.0 322.9,17.4 325.2,18.8 327.5,20.3 329.8,21.8 332.1,23.4 334.4,25.0 336.7,26.6 339.0,28.4 341.3,30.1 343.6,31.9 345.9,34.0 348.2,36.4 350.5,39.1 352.8,42.1 355.0,45.1 357.3,48.3 359.6,51.5 361.9,54.7 364.2,57.7 366.5,60.6 368.8,63.5 371.1,66.4 373.4,69.2 375.7,71.8 378.0,74.3 380.3,76.6 382.6,78.6 384.9,80.3 387.2,81.9 389.5,83.5 391.8,85.1 394.1,86.6 396.4,88.1 398.7,89.6 401.0,91.0 403.3,92.3 405.6,93.6 407.9,94.9 410.2,96.1 412.5,97.2 414.8,98.2 417.1,99.1 419.4,100.0 421.7,100.8 423.9,101.5 426.2,102.2 428.5,102.8 430.8,103.3 433.1,103.8 435.4,104.3 437.7,104.8 440.0,105.3 442.3,105.8 444.6,106.4 446.9,107.0 449.2,107.6 451.5,108.1 453.8,108.7 456.1,109.2 458.4,109.7 460.7,110.1 463.0,110.4 465.3,110.7 467.6,110.9 469.9,111.2 472.2,111.4 474.5,111.5 476.8,111.6 479.1,111.7 481.4,111.7 483.7,111.7 486.0,111.7 488.3,111.6 490.6,111.6 492.8,111.5 495.1,111.4 497.4,111.2 499.7,111.1 502.0,110.9 504.3,110.7 506.6,110.5 508.9,110.4 511.2,110.2 513.5,110.0 515.8,109.8 518.1,109.6 520.4,109.4 522.7,109.2 525.0,109.0" fill="none" stroke="#D95319" stroke-width="0.55" stroke-opacity="0.8" stroke-linejoin="round" stroke-linecap="round" />
<polyline points="320.6,16.0 322.9,17.4 325.2,18.8 327.5,20.3 329.9,21.9 332.2,23.5 334.5,25.1 336.8,26.7 339.1,28.5 341.4,30.2 343.7,32.2 346.0,34.3 348.4,36.8 350.7,39.6 353.0,42.6 355.3,45.7 357.6,49.0 359.9,52.3 362.2,55.4 364.6,58.5 366.9,61.4 369.2,64.4 371.5,67.3 373.8,70.1 376.1,72.8 378.4,75.3 380.8,77.6 383.1,79.5 385.4,81.3 387.7,82.9 390.0,84.5 392.3,86.1 394.6,87.7 396.9,89.2 399.3,90.7 401.6,92.1 403.9,93.4 406.2,94.8 408.5,96.1 410.8,97.3 413.1,98.4 415.5,99.4 417.8,100.3 420.1,101.2 422.4,102.0 424.7,102.8 427.0,103.4 429.3,104.0 431.6,104.6 434.0,105.1 436.3,105.6 438.6,106.1 440.9,106.6 443.2,107.2 445.5,107.9 447.8,108.5 450.2,109.0 452.5,109.6 454.8,110.2 457.1,110.7 459.4,111.2 461.7,111.6 464.0,111.9 466.3,112.2 468.7,112.5 471.0,112.7 473.3,112.9 475.6,113.1 477.9,113.2 480.2,113.3 482.5,113.3 484.9,113.3 487.2,113.3 489.5,113.3 491.8,113.2 494.1,113.1 496.4,113.1 498.7,112.9 501.1,112.8 503.4,112.6 505.7,112.5 508.0,112.3 510.3,112.2 512.6,112.0 514.9,111.8 517.2,111.7 519.6,111.5 521.9,111.3 524.2,111.2 526.5,111.0" fill="none" stroke="#EDB120" stroke-width="0.55" stroke-opacity="0.8" stroke-linejoin="round" stroke-linecap="round" />
<polyline points="320.6,16.0 322.9,17.4 325.2,18.8 327.5,20.3 329.7,21.8 332.0,23.4 334.3,25.0 336.6,26.6 338.9,28.3 341.2,30.1 343.5,32.0 345.7,34.1 348.0,36.6 350.3,39.3 352.6,42.3 354.9,45.3 357.2,48.5 359.5,51.8 361.7,55.0 364.0,58.0 366.3,61.0 368.6,63.9 370.9,66.9 373.2,69.7 375.4,72.4 377.7,74.9 380.0,77.2 382.3,79.3 384.6,81.1 386.9,82.8 389.2,84.4 391.4,86.0 393.7,87.6 396.0,89.1 398.3,90.6 400.6,92.0 402.9,93.4 405.2,94.7 407.4,96.0 409.7,97.3 412.0,98.4 414.3,99.5 416.6,100.5 418.9,101.4 421.2,102.2 423.4,103.0 425.7,103.7 428.0,104.4 430.3,105.0 432.6,105.5 434.9,106.0 437.2,106.5 439.4,107.0 441.7,107.6 444.0,108.2 446.3,108.9 448.6,109.4 450.9,110.0 453.2,110.6 455.4,111.2 457.7,111.7 460.0,112.2 462.3,112.5 464.6,112.9 466.9,113.2 469.2,113.5 471.4,113.7 473.7,113.9 476.0,114.1 478.3,114.2 480.6,114.3 482.9,114.4 485.1,114.4 487.4,114.4 489.7,114.3 492.0,114.3 494.3,114.2 496.6,114.2 498.9,114.1 501.1,113.9 503.4,113.8 505.7,113.7 508.0,113.5 510.3,113.4 512.6,113.2 514.9,113.1 517.1,112.9 519.4,112.8 521.7,112.7 524.0,112.5" fill="none" stroke="#77AC30" stroke-width="0.55" stroke-opacity="0.8" stroke-linejoin="round" stroke-linecap="round" />
<polyline points="320.6,16.0 322.9,17.4 325.2,18.8 327.5,20.3 329.8,21.9 332.1,23.4 334.4,25.0 336.7,26.7 339.0,28.4 341.3,30.2 343.6,32.2 345.9,34.4 348.2,36.9 350.5,39.8 352.8,42.8 355.1,45.9 357.4,49.2 359.7,52.5 362.0,55.7 364.3,58.8 366.6,61.8 368.9,64.7 371.2,67.7 373.6,70.6 375.9,73.2 378.2,75.8 380.5,78.1 382.8,80.2 385.1,81.9 387.4,83.6 389.7,85.2 392.0,86.9 394.3,88.5 396.6,90.0 398.9,91.5 401.2,93.0 403.5,94.4 405.8,95.7 408.1,97.0 410.4,98.3 412.7,99.4 415.0,100.5 417.3,101.5 419.6,102.4 421.9,103.2 424.2,104.0 426.5,104.7 428.8,105.4 431.1,106.0 433.4,106.5 435.7,107.0 438.0,107.6 440.3,108.1 442.6,108.7 444.9,109.4 447.2,110.0 449.5,110.6 451.8,111.2 454.1,111.8 456.4,112.4 458.7,112.9 461.0,113.4 463.3,113.7 465.6,114.1 467.9,114.4 470.2,114.7 472.5,114.9 474.9,115.1 477.2,115.3 479.5,115.4 481.8,115.5 484.1,115.6 486.4,115.6 488.7,115.6 491.0,115.6 493.3,115.6 495.6,115.5 497.9,115.4 500.2,115.3 502.5,115.2 504.8,115.1 507.1,115.0 509.4,114.9 511.7,114.8 514.0,114.6 516.3,114.5 518.6,114.4 520.9,114.3 523.2,114.1 525.5,114.0" fill="none" stroke="#4DBEEE" stroke-width="0.55" stroke-opacity="0.8" stroke-linejoin="round" stroke-linecap="round" />
<polyline points="320.6,16.0 322.9,17.4 325.2,18.8 327.5,20.3 329.7,21.8 332.0,23.4 334.3,25.0 336.6,26.6 338.9,28.3 341.2,30.1 343.5,32.1 345.7,34.4 348.0,36.9 350.3,39.7 352.6,42.7 354.9,45.8 357.2,49.1 359.5,52.4 361.7,55.6 364.0,58.7 366.3,61.7 368.6,64.7 370.9,67.7 373.2,70.6 375.4,73.2 377.7,75.8 380.0,78.2 382.3,80.3 384.6,82.2 386.9,83.9 389.2,85.5 391.4,87.2 393.7,88.8 396.0,90.4 398.3,91.9 400.6,93.3 402.9,94.7 405.2,96.1 407.4,97.5 409.7,98.7 412.0,99.9 414.3,101.0 416.6,102.0 418.9,103.0 421.2,103.9 423.4,104.7 425.7,105.5 428.0,106.1 430.3,106.7 432.6,107.3 434.9,107.9 437.2,108.4 439.4,109.0 441.7,109.6 444.0,110.2 446.3,110.9 448.6,111.5 450.9,112.1 453.2,112.8 455.4,113.4 457.7,113.9 460.0,114.4 462.3,114.9 464.6,115.2 466.9,115.6 469.2,115.9 471.4,116.2 473.7,116.4 476.0,116.6 478.3,116.8 480.6,116.9 482.9,117.0 485.1,117.1 487.4,117.1 489.7,117.1 492.0,117.1 494.3,117.1 496.6,117.1 498.9,117.0 501.1,117.0 503.4,116.9 505.7,116.8 508.0,116.7 510.3,116.6 512.6,116.5 514.9,116.4 517.1,116.3 519.4,116.2 521.7,116.1 524.0,116.0" fill="none" stroke="#7E2F8E" stroke-width="0.55" stroke-opacity="0.8" stroke-linejoin="round" stroke-linecap="round" />
<polyline points="320.6,16.0 322.9,17.4 325.2,18.8 327.5,20.3 329.8,21.8 332.1,23.4 334.4,25.0 336.7,26.6 339.0,28.4 341.3,30.3 343.6,32.3 345.9,34.6 348.2,37.2 350.5,40.0 352.8,43.1 355.0,46.3 357.3,49.6 359.6,52.9 361.9,56.2 364.2,59.3 366.5,62.3 368.8,65.4 371.1,68.4 373.4,71.3 375.7,73.9 378.0,76.5 380.3,78.9 382.6,81.0 384.9,82.9 387.2,84.6 389.5,86.2 391.8,87.9 394.1,89.6 396.4,91.1 398.7,92.7 401.0,94.1 403.3,95.6 405.6,97.0 407.9,98.3 410.2,99.6 412.5,100.8 414.8,101.9 417.1,102.9 419.4,103.9 421.7,104.8 423.9,105.6 426.2,106.4 428.5,107.0 430.8,107.7 433.1,108.3 435.4,108.8 437.7,109.4 440.0,110.0 442.3,110.6 444.6,111.3 446.9,112.0 449.2,112.6 451.5,113.3 453.8,113.9 456.1,114.5 458.4,115.1 460.7,115.6 463.0,116.0 465.3,116.4 467.6,116.7 469.9,117.1 472.2,117.4 474.5,117.6 476.8,117.8 479.1,118.0 481.4,118.1 483.7,118.2 486.0,118.3 488.3,118.3 490.6,118.4 492.8,118.4 495.1,118.4 497.4,118.4 499.7,118.3 502.0,118.3 504.3,118.2 506.6,118.1 508.9,118.0 511.2,118.0 513.5,117.9 515.8,117.8 518.1,117.7 520.4,117.7 522.7,117.6 525.0,117.5" fill="none" stroke="#77AC30" stroke-width="0.55" stroke-opacity="0.8" stroke-linejoin="round" stroke-linecap="round" />
<polyline points="320.6,16.0 322.9,17.4 325.1,18.8 327.4,20.3 329.7,21.8 332.0,23.3 334.2,24.9 336.5,26.5 338.8,28.3 341.1,30.1 343.3,32.2 345.6,34.5 347.9,37.0 350.2,39.9 352.4,42.9 354.7,46.1 357.0,49.3 359.3,52.7 361.5,56.0 363.8,59.1 366.1,62.1 368.4,65.2 370.6,68.2 372.9,71.1 375.2,73.8 377.5,76.4 379.7,78.9 382.0,81.1 384.3,83.0 386.6,84.7 388.8,86.4 391.1,88.1 393.4,89.7 395.6,91.3 397.9,92.9 400.2,94.4 402.5,95.8 404.7,97.2 407.0,98.6 409.3,99.9 411.6,101.2 413.8,102.3 416.1,103.4 418.4,104.4 420.7,105.3 422.9,106.2 425.2,107.0 427.5,107.7 429.8,108.4 432.0,109.0 434.3,109.6 436.6,110.2 438.9,110.7 441.1,111.4 443.4,112.0 445.7,112.7 448.0,113.4 450.2,114.1 452.5,114.7 454.8,115.4 457.0,116.0 459.3,116.5 461.6,117.0 463.9,117.4 466.1,117.9 468.4,118.2 470.7,118.6 473.0,118.8 475.2,119.1 477.5,119.3 479.8,119.5 482.1,119.6 484.3,119.8 486.6,119.8 488.9,119.9 491.2,120.0 493.4,120.0 495.7,120.0 498.0,120.0 500.3,120.0 502.5,119.9 504.8,119.9 507.1,119.8 509.4,119.8 511.6,119.7 513.9,119.7 516.2,119.6 518.5,119.6 520.7,119.6 523.0,119.5" fill="none" stroke="#0072BD" stroke-width="0.55" stroke-opacity="0.8" stroke-linejoin="round" stroke-linecap="round" />
<polyline points="320.6,16.0 322.9,17.4 325.1,18.8 327.4,20.2 329.7,21.7 331.9,23.3 334.2,24.9 336.4,26.5 338.7,28.2 341.0,30.1 343.2,32.2 345.5,34.5 347.8,37.0 350.0,39.8 352.3,42.9 354.5,46.0 356.8,49.3 359.1,52.7 361.3,56.0 363.6,59.1 365.9,62.2 368.1,65.2 370.4,68.2 372.6,71.1 374.9,73.9 377.2,76.5 379.4,79.0 381.7,81.2 384.0,83.2 386.2,84.9 388.5,86.6 390.8,88.3 393.0,90.0 395.3,91.6 397.5,93.2 399.8,94.7 402.1,96.1 404.3,97.6 406.6,99.0 408.9,100.3 411.1,101.6 413.4,102.7 415.6,103.8 417.9,104.9 420.2,105.8 422.4,106.7 424.7,107.5 427.0,108.3 429.2,109.0 431.5,109.6 433.7,110.2 436.0,110.8 438.3,111.4 440.5,112.0 442.8,112.7 445.1,113.4 447.3,114.1 449.6,114.8 451.8,115.5 454.1,116.1 456.4,116.8 458.6,117.3 460.9,117.9 463.2,118.3 465.4,118.7 467.7,119.1 470.0,119.5 472.2,119.8 474.5,120.1 476.7,120.3 479.0,120.5 481.3,120.7 483.5,120.9 485.8,121.0 488.1,121.1 490.3,121.1 492.6,121.2 494.8,121.2 497.1,121.3 499.4,121.3 501.6,121.2 503.9,121.2 506.2,121.2 508.4,121.2 510.7,121.1 512.9,121.1 515.2,121.1 517.5,121.1 519.7,121.0 522.0,121.0" fill="none" stroke="#D95319" stroke-width="0.55" stroke-opacity="0.8" stroke-linejoin="round" stroke-linecap="round" />
<polyline points="320.6,16.0 322.9,17.4 325.2,18.8 327.5,20.3 329.8,21.8 332.1,23.4 334.4,25.0 336.7,26.6 339.0,28.4 341.3,30.4 343.6,32.6 345.9,35.0 348.2,37.7 350.5,40.6 352.8,43.8 355.0,47.0 357.3,50.4 359.6,53.8 361.9,57.2 364.2,60.4 366.5,63.5 368.8,66.6 371.1,69.6 373.4,72.6 375.7,75.3 378.0,78.0 380.3,80.5 382.6,82.6 384.9,84.5 387.2,86.3 389.5,88.0 391.8,89.7 394.1,91.4 396.4,93.1 398.7,94.7 401.0,96.3 403.3,97.8 405.6,99.2 407.9,100.7 410.2,102.0 412.5,103.3 414.8,104.5 417.1,105.6 419.4,106.6 421.7,107.6 423.9,108.5 426.2,109.3 428.5,110.1 430.8,110.8 433.1,111.4 435.4,112.1 437.7,112.7 440.0,113.3 442.3,114.1 444.6,114.8 446.9,115.6 449.2,116.3 451.5,117.0 453.8,117.7 456.1,118.4 458.4,119.1 460.7,119.6 463.0,120.1 465.3,120.6 467.6,121.0 469.9,121.4 472.2,121.8 474.5,122.1 476.8,122.4 479.1,122.6 481.4,122.9 483.7,123.1 486.0,123.2 488.3,123.3 490.6,123.4 492.8,123.5 495.1,123.6 497.4,123.7 499.7,123.7 502.0,123.7 504.3,123.7 506.6,123.7 508.9,123.7 511.2,123.8 513.5,123.8 515.8,123.8 518.1,123.8 520.4,123.8 522.7,123.8 525.0,123.8" fill="none" stroke="#4DBEEE" stroke-width="0.55" stroke-opacity="0.8" stroke-linejoin="round" stroke-linecap="round" />
<polyline points="320.6,16.0 322.9,17.4 325.1,18.8 327.4,20.3 329.7,21.8 332.0,23.3 334.2,24.9 336.5,26.5 338.8,28.3 341.1,30.2 343.3,32.4 345.6,34.7 347.9,37.3 350.2,40.2 352.4,43.3 354.7,46.5 357.0,49.9 359.3,53.3 361.5,56.6 363.8,59.8 366.1,62.9 368.4,65.9 370.6,69.0 372.9,71.9 375.2,74.7 377.5,77.4 379.7,79.9 382.0,82.1 384.3,84.0 386.6,85.8 388.8,87.5 391.1,89.2 393.4,90.9 395.6,92.6 397.9,94.2 400.2,95.8 402.5,97.4 404.7,98.9 407.0,100.4 409.3,101.8 411.6,103.1 413.8,104.4 416.1,105.5 418.4,106.6 420.7,107.6 422.9,108.6 425.2,109.5 427.5,110.3 429.8,111.0 432.0,111.8 434.3,112.4 436.6,113.1 438.9,113.8 441.1,114.5 443.4,115.2 445.7,116.0 448.0,116.8 450.2,117.5 452.5,118.3 454.8,119.0 457.0,119.7 459.3,120.3 461.6,120.9 463.9,121.4 466.1,121.9 468.4,122.3 470.7,122.8 473.0,123.1 475.2,123.5 477.5,123.7 479.8,124.0 482.1,124.3 484.3,124.5 486.6,124.6 488.9,124.8 491.2,124.9 493.4,125.0 495.7,125.1 498.0,125.2 500.3,125.2 502.5,125.3 504.8,125.3 507.1,125.3 509.4,125.4 511.6,125.4 513.9,125.4 516.2,125.4 518.5,125.5 520.7,125.5 523.0,125.5" fill="none" stroke="#0072BD" stroke-width="0.55" stroke-opacity="0.8" stroke-linejoin="round" stroke-linecap="round" />
<polyline points="320.6,16.0 322.9,17.4 325.1,18.8 327.4,20.2 329.6,21.7 331.9,23.3 334.1,24.8 336.4,26.4 338.6,28.1 340.9,30.0 343.1,32.2 345.4,34.5 347.6,37.0 349.9,39.8 352.1,42.9 354.4,46.1 356.6,49.3 358.9,52.7 361.1,56.0 363.4,59.2 365.6,62.3 367.9,65.3 370.1,68.3 372.4,71.3 374.6,74.1 376.9,76.7 379.1,79.2 381.4,81.5 383.6,83.5 385.9,85.3 388.2,87.0 390.4,88.7 392.7,90.4 394.9,92.0 397.2,93.7 399.4,95.3 401.7,96.9 403.9,98.5 406.2,100.0 408.4,101.5 410.7,102.9 412.9,104.2 415.2,105.4 417.4,106.5 419.7,107.6 421.9,108.6 424.2,109.6 426.4,110.4 428.7,111.2 430.9,112.0 433.2,112.7 435.4,113.4 437.7,114.1 439.9,114.8 442.2,115.6 444.4,116.4 446.7,117.2 448.9,117.9 451.2,118.7 453.4,119.4 455.7,120.2 458.0,120.9 460.2,121.5 462.5,122.1 464.7,122.6 467.0,123.1 469.2,123.6 471.5,124.0 473.7,124.4 476.0,124.7 478.2,125.0 480.5,125.3 482.7,125.5 485.0,125.8 487.2,125.9 489.5,126.1 491.7,126.2 494.0,126.4 496.2,126.5 498.5,126.6 500.7,126.6 503.0,126.7 505.2,126.7 507.5,126.8 509.7,126.8 512.0,126.9 514.2,126.9 516.5,126.9 518.7,127.0 521.0,127.0" fill="none" stroke="#EDB120" stroke-width="0.55" stroke-opacity="0.8" stroke-linejoin="round" stroke-linecap="round" />
<polyline points="320.6,16.0 322.8,17.4 325.1,18.8 327.3,20.2 329.6,21.7 331.8,23.2 334.1,24.8 336.3,26.4 338.6,28.1 340.8,30.0 343.1,32.1 345.3,34.4 347.6,36.9 349.8,39.7 352.0,42.8 354.3,45.9 356.5,49.2 358.8,52.6 361.0,55.9 363.3,59.0 365.5,62.1 367.8,65.1 370.0,68.1 372.3,71.1 374.5,73.9 376.8,76.6 379.0,79.1 381.2,81.4 383.5,83.4 385.7,85.2 388.0,86.9 390.2,88.6 392.5,90.3 394.7,91.9 397.0,93.6 399.2,95.2 401.5,96.9 403.7,98.5 406.0,100.1 408.2,101.6 410.4,103.1 412.7,104.4 414.9,105.7 417.2,106.9 419.4,108.0 421.7,109.0 423.9,110.0 426.2,110.9 428.4,111.8 430.7,112.6 432.9,113.3 435.1,114.1 437.4,114.8 439.6,115.5 441.9,116.3 444.1,117.1 446.4,118.0 448.6,118.8 450.9,119.6 453.1,120.4 455.4,121.1 457.6,121.9 459.9,122.6 462.1,123.2 464.3,123.7 466.6,124.2 468.8,124.7 471.1,125.2 473.3,125.6 475.6,126.0 477.8,126.3 480.1,126.6 482.3,126.9 484.6,127.2 486.8,127.4 489.1,127.6 491.3,127.8 493.5,127.9 495.8,128.1 498.0,128.2 500.3,128.3 502.5,128.4 504.8,128.4 507.0,128.5 509.3,128.6 511.5,128.6 513.8,128.7 516.0,128.7 518.3,128.8 520.5,128.8" fill="none" stroke="#D95319" stroke-width="0.55" stroke-opacity="0.8" stroke-linejoin="round" stroke-linecap="round" />
<polyline points="320.6,16.0 322.8,17.3 325.1,18.7 327.3,20.2 329.5,21.7 331.8,23.2 334.0,24.7 336.2,26.3 338.5,28.0 340.7,29.9 342.9,32.0 345.2,34.3 347.4,36.8 349.7,39.5 351.9,42.6 354.1,45.7 356.4,48.9 358.6,52.3 360.8,55.6 363.1,58.7 365.3,61.8 367.5,64.8 369.8,67.8 372.0,70.8 374.2,73.6 376.5,76.2 378.7,78.8 380.9,81.1 383.2,83.1 385.4,84.9 387.6,86.6 389.9,88.3 392.1,90.0 394.3,91.6 396.6,93.3 398.8,95.0 401.1,96.7 403.3,98.4 405.5,100.0 407.8,101.6 410.0,103.1 412.2,104.5 414.5,105.8 416.7,107.1 418.9,108.2 421.2,109.3 423.4,110.3 425.6,111.3 427.9,112.2 430.1,113.0 432.3,113.8 434.6,114.6 436.8,115.3 439.0,116.1 441.3,116.9 443.5,117.8 445.8,118.6 448.0,119.5 450.2,120.3 452.5,121.1 454.7,121.9 456.9,122.7 459.2,123.4 461.4,124.1 463.6,124.7 465.9,125.3 468.1,125.8 470.3,126.3 472.6,126.7 474.8,127.2 477.0,127.5 479.3,127.9 481.5,128.2 483.7,128.5 486.0,128.8 488.2,129.0 490.4,129.2 492.7,129.4 494.9,129.5 497.2,129.7 499.4,129.8 501.6,129.9 503.9,130.0 506.1,130.1 508.3,130.2 510.6,130.3 512.8,130.3 515.0,130.4 517.3,130.5 519.5,130.5" fill="none" stroke="#7E2F8E" stroke-width="0.55" stroke-opacity="0.8" stroke-linejoin="round" stroke-linecap="round" />
<polyline points="320.6,16.0 322.8,17.3 325.1,18.7 327.3,20.2 329.5,21.7 331.7,23.2 334.0,24.7 336.2,26.3 338.4,28.0 340.7,29.8 342.9,31.9 345.1,34.2 347.4,36.7 349.6,39.5 351.8,42.5 354.0,45.6 356.3,48.8 358.5,52.1 360.7,55.4 363.0,58.6 365.2,61.7 367.4,64.7 369.6,67.7 371.9,70.6 374.1,73.4 376.3,76.1 378.6,78.6 380.8,80.9 383.0,83.0 385.2,84.8 387.5,86.5 389.7,88.2 391.9,89.9 394.2,91.5 396.4,93.2 398.6,94.9 400.9,96.6 403.1,98.4 405.3,100.1 407.5,101.7 409.8,103.2 412.0,104.7 414.2,106.0 416.5,107.3 418.7,108.5 420.9,109.6 423.1,110.7 425.4,111.7 427.6,112.6 429.8,113.5 432.1,114.3 434.3,115.1 436.5,115.9 438.7,116.7 441.0,117.5 443.2,118.4 445.4,119.3 447.7,120.2 449.9,121.0 452.1,121.9 454.4,122.7 456.6,123.5 458.8,124.3 461.0,125.0 463.3,125.6 465.5,126.2 467.7,126.8 470.0,127.3 472.2,127.8 474.4,128.2 476.6,128.6 478.9,129.0 481.1,129.4 483.3,129.7 485.6,130.0 487.8,130.2 490.0,130.4 492.2,130.7 494.5,130.9 496.7,131.0 498.9,131.2 501.2,131.3 503.4,131.4 505.6,131.5 507.9,131.6 510.1,131.7 512.3,131.8 514.5,131.9 516.8,132.0 519.0,132.0" fill="none" stroke="#4DBEEE" stroke-width="0.55" stroke-opacity="0.8" stroke-linejoin="round" stroke-linecap="round" />
<polyline points="320.6,16.0 322.8,17.3 325.1,18.7 327.3,20.2 329.5,21.7 331.8,23.2 334.0,24.7 336.2,26.3 338.5,28.0 340.7,29.9 342.9,32.0 345.2,34.3 347.4,36.7 349.6,39.5 351.9,42.5 354.1,45.7 356.3,48.9 358.6,52.2 360.8,55.5 363.0,58.7 365.3,61.7 367.5,64.7 369.7,67.8 371.9,70.7 374.2,73.5 376.4,76.2 378.6,78.7 380.9,81.0 383.1,83.1 385.3,84.9 387.6,86.5 389.8,88.2 392.0,89.9 394.3,91.6 396.5,93.3 398.7,95.0 401.0,96.8 403.2,98.6 405.4,100.4 407.7,102.1 409.9,103.6 412.1,105.1 414.4,106.5 416.6,107.8 418.8,109.0 421.1,110.2 423.3,111.3 425.5,112.4 427.8,113.3 430.0,114.2 432.2,115.1 434.5,115.9 436.7,116.7 438.9,117.5 441.2,118.4 443.4,119.3 445.6,120.3 447.9,121.2 450.1,122.1 452.3,122.9 454.6,123.8 456.8,124.7 459.0,125.5 461.3,126.2 463.5,126.8 465.7,127.5 468.0,128.0 470.2,128.6 472.4,129.1 474.6,129.6 476.9,130.0 479.1,130.4 481.3,130.8 483.6,131.2 485.8,131.5 488.0,131.7 490.3,132.0 492.5,132.2 494.7,132.4 497.0,132.6 499.2,132.8 501.4,133.0 503.7,133.1 505.9,133.2 508.1,133.3 510.4,133.5 512.6,133.6 514.8,133.7 517.1,133.7 519.3,133.8" fill="none" stroke="#0072BD" stroke-width="0.55" stroke-opacity="0.8" stroke-linejoin="round" stroke-linecap="round" />
<polyline points="320.6,16.0 322.8,17.3 325.0,18.7 327.2,20.1 329.4,21.6 331.6,23.1 333.8,24.6 336.0,26.2 338.3,27.8 340.5,29.7 342.7,31.7 344.9,34.0 347.1,36.4 349.3,39.1 351.5,42.0 353.7,45.1 355.9,48.3 358.1,51.6 360.3,54.9 362.5,58.0 364.7,61.0 366.9,64.0 369.1,67.0 371.4,69.9 373.6,72.8 375.8,75.4 378.0,78.0 380.2,80.3 382.4,82.4 384.6,84.3 386.8,86.0 389.0,87.6 391.2,89.3 393.4,91.0 395.6,92.7 397.8,94.4 400.0,96.3 402.2,98.3 404.5,100.2 406.7,102.1 408.9,103.8 411.1,105.5 413.3,107.0 415.5,108.4 417.7,109.8 419.9,111.1 422.1,112.4 424.3,113.5 426.5,114.6 428.7,115.7 430.9,116.6 433.1,117.6 435.4,118.5 437.6,119.4 439.8,120.4 442.0,121.4 444.2,122.4 446.4,123.4 448.6,124.4 450.8,125.4 453.0,126.3 455.2,127.3 457.4,128.2 459.6,129.1 461.8,129.9 464.0,130.6 466.2,131.3 468.5,132.0 470.7,132.6 472.9,133.2 475.1,133.7 477.3,134.2 479.5,134.7 481.7,135.2 483.9,135.6 486.1,136.0 488.3,136.3 490.5,136.6 492.7,137.0 494.9,137.2 497.1,137.5 499.3,137.7 501.6,137.9 503.8,138.1 506.0,138.3 508.2,138.5 510.4,138.6 512.6,138.8 514.8,138.9 517.0,139.0" fill="none" stroke="#D95319" stroke-width="0.55" stroke-opacity="0.8" stroke-linejoin="round" stroke-linecap="round" />
<polyline points="320.6,16.0 322.8,17.3 325.0,18.7 327.2,20.1 329.3,21.5 331.5,23.0 333.7,24.5 335.9,26.1 338.1,27.7 340.3,29.5 342.4,31.5 344.6,33.7 346.8,36.1 349.0,38.7 351.2,41.6 353.4,44.6 355.5,47.7 357.7,51.0 359.9,54.3 362.1,57.4 364.3,60.4 366.5,63.4 368.7,66.3 370.8,69.2 373.0,72.1 375.2,74.7 377.4,77.3 379.6,79.7 381.8,81.9 383.9,83.8 386.1,85.5 388.3,87.1 390.5,88.8 392.7,90.4 394.9,92.1 397.0,93.9 399.2,95.9 401.4,97.9 403.6,100.0 405.8,102.1 408.0,104.0 410.2,105.8 412.3,107.4 414.5,109.0 416.7,110.5 418.9,112.0 421.1,113.3 423.3,114.6 425.4,115.9 427.6,117.0 429.8,118.1 432.0,119.2 434.2,120.2 436.4,121.3 438.6,122.3 440.7,123.3 442.9,124.4 445.1,125.5 447.3,126.6 449.5,127.7 451.7,128.8 453.8,129.8 456.0,130.9 458.2,131.8 460.4,132.8 462.6,133.6 464.8,134.4 466.9,135.2 469.1,135.9 471.3,136.6 473.5,137.3 475.7,137.9 477.9,138.5 480.1,139.0 482.2,139.6 484.4,140.0 486.6,140.5 488.8,140.9 491.0,141.3 493.2,141.7 495.3,142.0 497.5,142.3 499.7,142.6 501.9,142.9 504.1,143.1 506.3,143.3 508.4,143.5 510.6,143.7 512.8,143.9 515.0,144.0" fill="none" stroke="#D8708A" stroke-width="0.55" stroke-opacity="0.8" stroke-linejoin="round" stroke-linecap="round" />
<polyline points="320.6,16.0 322.8,17.3 325.0,18.7 327.1,20.1 329.3,21.5 331.5,23.0 333.7,24.5 335.8,26.0 338.0,27.7 340.2,29.4 342.4,31.4 344.6,33.6 346.7,36.0 348.9,38.6 351.1,41.5 353.3,44.5 355.4,47.6 357.6,50.8 359.8,54.1 362.0,57.2 364.2,60.2 366.3,63.2 368.5,66.1 370.7,69.0 372.9,71.9 375.0,74.5 377.2,77.1 379.4,79.5 381.6,81.7 383.7,83.6 385.9,85.3 388.1,86.9 390.3,88.6 392.5,90.2 394.6,91.9 396.8,93.7 399.0,95.7 401.2,97.8 403.3,100.0 405.5,102.1 407.7,104.1 409.9,105.9 412.1,107.7 414.2,109.3 416.4,110.9 418.6,112.3 420.8,113.8 422.9,115.1 425.1,116.4 427.3,117.6 429.5,118.8 431.7,119.9 433.8,121.0 436.0,122.0 438.2,123.1 440.4,124.1 442.5,125.3 444.7,126.4 446.9,127.6 449.1,128.7 451.3,129.8 453.4,130.9 455.6,131.9 457.8,133.0 460.0,133.9 462.1,134.8 464.3,135.7 466.5,136.5 468.7,137.3 470.8,138.0 473.0,138.7 475.2,139.4 477.4,140.0 479.6,140.6 481.7,141.2 483.9,141.7 486.1,142.2 488.3,142.6 490.4,143.0 492.6,143.4 494.8,143.8 497.0,144.1 499.2,144.5 501.3,144.7 503.5,145.0 505.7,145.3 507.9,145.5 510.0,145.7 512.2,145.9 514.4,146.0" fill="none" stroke="#A2142F" stroke-width="0.55" stroke-opacity="0.8" stroke-linejoin="round" stroke-linecap="round" />
<polyline points="320.6,16.0 322.8,17.3 324.9,18.7 327.1,20.1 329.3,21.5 331.5,23.0 333.6,24.5 335.8,26.0 338.0,27.6 340.2,29.4 342.3,31.4 344.5,33.6 346.7,35.9 348.8,38.5 351.0,41.4 353.2,44.4 355.4,47.5 357.5,50.7 359.7,54.0 361.9,57.1 364.1,60.1 366.2,63.1 368.4,66.0 370.6,68.9 372.8,71.7 374.9,74.4 377.1,77.0 379.3,79.4 381.4,81.6 383.6,83.5 385.8,85.2 388.0,86.8 390.1,88.5 392.3,90.1 394.5,91.8 396.7,93.6 398.8,95.6 401.0,97.8 403.2,100.0 405.3,102.1 407.5,104.1 409.7,106.0 411.9,107.8 414.0,109.5 416.2,111.0 418.4,112.6 420.6,114.0 422.7,115.4 424.9,116.7 427.1,118.0 429.3,119.1 431.4,120.3 433.6,121.4 435.8,122.5 437.9,123.5 440.1,124.6 442.3,125.8 444.5,126.9 446.6,128.1 448.8,129.2 451.0,130.4 453.2,131.5 455.3,132.6 457.5,133.6 459.7,134.6 461.8,135.6 464.0,136.4 466.2,137.3 468.4,138.1 470.5,138.9 472.7,139.6 474.9,140.3 477.1,140.9 479.2,141.5 481.4,142.1 483.6,142.7 485.8,143.2 487.9,143.6 490.1,144.0 492.3,144.5 494.4,144.9 496.6,145.2 498.8,145.6 501.0,145.9 503.1,146.2 505.3,146.4 507.5,146.7 509.7,146.9 511.8,147.1 514.0,147.2" fill="none" stroke="#D95319" stroke-width="0.55" stroke-opacity="0.8" stroke-linejoin="round" stroke-linecap="round" />
<polyline points="320.6,16.0 322.7,17.2 324.7,18.5 326.8,19.8 328.8,21.2 330.9,22.6 332.9,24.0 335.0,25.4 337.0,26.9 339.1,28.5 341.1,30.3 343.2,32.2 345.2,34.3 347.3,36.6 349.3,39.1 351.4,41.9 353.4,44.8 355.5,47.7 357.6,50.7 359.6,53.8 361.7,56.8 363.7,59.6 365.8,62.4 367.8,65.2 369.9,68.0 371.9,70.7 374.0,73.3 376.0,75.7 378.1,78.1 380.1,80.3 382.2,82.2 384.2,84.0 386.3,85.6 388.3,87.1 390.4,88.7 392.4,90.2 394.5,91.9 396.6,93.8 398.6,96.1 400.7,98.7 402.7,101.3 404.8,103.8 406.8,106.2 408.9,108.4 410.9,110.4 413.0,112.4 415.0,114.3 417.1,116.1 419.1,117.8 421.2,119.5 423.2,121.1 425.3,122.7 427.3,124.2 429.4,125.6 431.5,127.0 433.5,128.4 435.6,129.8 437.6,131.1 439.7,132.4 441.7,133.8 443.8,135.2 445.8,136.6 447.9,138.0 449.9,139.4 452.0,140.7 454.0,142.0 456.1,143.4 458.1,144.6 460.2,145.8 462.2,146.9 464.3,148.0 466.3,149.1 468.4,150.1 470.5,151.0 472.5,152.0 474.6,152.8 476.6,153.7 478.7,154.5 480.7,155.2 482.8,156.0 484.8,156.7 486.9,157.3 488.9,157.9 491.0,158.4 493.0,159.0 495.1,159.5 497.1,159.9 499.2,160.3 501.2,160.6 503.3,160.8" fill="none" stroke="#77AC30" stroke-width="0.55" stroke-opacity="0.8" stroke-linejoin="round" stroke-linecap="round" />
<polyline points="320.6,16.0 322.6,17.2 324.6,18.5 326.6,19.8 328.6,21.1 330.7,22.4 332.7,23.8 334.7,25.2 336.7,26.7 338.7,28.2 340.7,29.9 342.7,31.8 344.7,33.8 346.8,36.0 348.8,38.4 350.8,41.1 352.8,43.9 354.8,46.7 356.8,49.6 358.8,52.6 360.8,55.6 362.9,58.5 364.9,61.2 366.9,63.9 368.9,66.6 370.9,69.3 372.9,72.0 374.9,74.4 376.9,76.8 379.0,79.0 381.0,81.1 383.0,82.9 385.0,84.6 387.0,86.1 389.0,87.6 391.0,89.2 393.0,90.7 395.1,92.4 397.1,94.5 399.1,97.1 401.1,100.0 403.1,102.8 405.1,105.4 407.1,107.9 409.1,110.2 411.2,112.4 413.2,114.4 415.2,116.4 417.2,118.4 419.2,120.3 421.2,122.1 423.2,123.9 425.2,125.6 427.3,127.2 429.3,128.8 431.3,130.3 433.3,131.8 435.3,133.3 437.3,134.7 439.3,136.2 441.3,137.7 443.4,139.2 445.4,140.7 447.4,142.2 449.4,143.7 451.4,145.2 453.4,146.6 455.4,148.0 457.4,149.4 459.5,150.8 461.5,152.0 463.5,153.2 465.5,154.4 467.5,155.5 469.5,156.6 471.5,157.6 473.5,158.6 475.6,159.5 477.6,160.4 479.6,161.3 481.6,162.1 483.6,162.9 485.6,163.6 487.6,164.3 489.6,164.9 491.7,165.5 493.7,166.0 495.7,166.5 497.7,166.9 499.7,167.2" fill="none" stroke="#EDB120" stroke-width="0.55" stroke-opacity="0.8" stroke-linejoin="round" stroke-linecap="round" />
<polyline points="320.6,16.0 322.8,17.3 325.1,18.7 327.3,20.2 329.5,21.7 331.8,23.2 334.0,24.8 336.3,26.3 338.5,28.0 340.7,29.9 343.0,32.0 345.2,34.3 347.4,36.8 349.7,39.6 351.9,42.6 354.2,45.8 356.4,49.0 358.6,52.3 360.9,55.6 363.1,58.8 365.3,61.9 367.6,64.9 369.8,67.9 372.1,70.8 374.3,73.6 376.5,76.3 378.8,78.8 381.0,81.1 383.2,83.2 385.5,85.0 387.7,86.7 389.9,88.3 392.2,90.0 394.4,91.7 396.7,93.3 398.9,94.8 401.1,96.3 403.4,97.8 405.6,99.2 407.8,100.5 410.1,101.8 412.3,103.1 414.6,104.2 416.8,105.3 419.0,106.3 421.3,107.2 423.5,108.1 425.7,108.9 428.0,109.6 430.2,110.3 432.5,110.9 434.7,111.5 436.9,112.1 439.2,112.7 441.4,113.4 443.6,114.1 445.9,114.8 448.1,115.5 450.4,116.2 452.6,116.9 454.8,117.6 457.1,118.2 459.3,118.8 461.5,119.3 463.8,119.8 466.0,120.2 468.2,120.6 470.5,121.0 472.7,121.3 475.0,121.6 477.2,121.8 479.4,122.1 481.7,122.3 483.9,122.5 486.1,122.6 488.4,122.7 490.6,122.8 492.9,122.9 495.1,122.9 497.3,123.0 499.6,123.0 501.8,123.0 504.0,123.0 506.3,123.0 508.5,123.0 510.8,123.0 513.0,123.0 515.2,123.0 517.5,123.0 519.7,123.0" fill="none" stroke="#0000FF" stroke-width="2.9" stroke-opacity="1" stroke-linejoin="round" stroke-linecap="round" />
</g>
<rect x="320.4" y="4.0" width="221.70000000000005" height="175.6" fill="none" stroke="#9a9a9a" stroke-width="1.0"/>
<line x1="341.6" y1="179.6" x2="341.6" y2="177.79999999999998" stroke="#9a9a9a" stroke-width="0.8"/>
<line x1="341.6" y1="4.0" x2="341.6" y2="5.8" stroke="#9a9a9a" stroke-width="0.8"/>
<text x="341.6" y="189.0" font-size="6.5" text-anchor="middle" fill="#383838" class="tk">12</text>
<line x1="381.4" y1="179.6" x2="381.4" y2="177.79999999999998" stroke="#9a9a9a" stroke-width="0.8"/>
<line x1="381.4" y1="4.0" x2="381.4" y2="5.8" stroke="#9a9a9a" stroke-width="0.8"/>
<text x="381.4" y="189.0" font-size="6.5" text-anchor="middle" fill="#383838" class="tk">12.5</text>
<line x1="421.1" y1="179.6" x2="421.1" y2="177.79999999999998" stroke="#9a9a9a" stroke-width="0.8"/>
<line x1="421.1" y1="4.0" x2="421.1" y2="5.8" stroke="#9a9a9a" stroke-width="0.8"/>
<text x="421.1" y="189.0" font-size="6.5" text-anchor="middle" fill="#383838" class="tk">13</text>
<line x1="460.9" y1="179.6" x2="460.9" y2="177.79999999999998" stroke="#9a9a9a" stroke-width="0.8"/>
<line x1="460.9" y1="4.0" x2="460.9" y2="5.8" stroke="#9a9a9a" stroke-width="0.8"/>
<text x="460.9" y="189.0" font-size="6.5" text-anchor="middle" fill="#383838" class="tk">13.5</text>
<line x1="500.6" y1="179.6" x2="500.6" y2="177.79999999999998" stroke="#9a9a9a" stroke-width="0.8"/>
<line x1="500.6" y1="4.0" x2="500.6" y2="5.8" stroke="#9a9a9a" stroke-width="0.8"/>
<text x="500.6" y="189.0" font-size="6.5" text-anchor="middle" fill="#383838" class="tk">14</text>
<line x1="541.2" y1="179.6" x2="541.2" y2="177.79999999999998" stroke="#9a9a9a" stroke-width="0.8"/>
<line x1="541.2" y1="4.0" x2="541.2" y2="5.8" stroke="#9a9a9a" stroke-width="0.8"/>
<text x="541.2" y="189.0" font-size="6.5" text-anchor="middle" fill="#383838" class="tk">14.5</text>
<line x1="320.4" y1="14.0" x2="322.2" y2="14.0" stroke="#9a9a9a" stroke-width="0.8"/>
<line x1="542.1" y1="14.0" x2="540.3000000000001" y2="14.0" stroke="#9a9a9a" stroke-width="0.8"/>
<text x="317.7" y="16.3" font-size="6.5" text-anchor="end" fill="#383838" class="tk">24.8</text>
<line x1="320.4" y1="29.9" x2="322.2" y2="29.9" stroke="#9a9a9a" stroke-width="0.8"/>
<line x1="542.1" y1="29.9" x2="540.3000000000001" y2="29.9" stroke="#9a9a9a" stroke-width="0.8"/>
<text x="317.7" y="32.3" font-size="6.5" text-anchor="end" fill="#383838" class="tk">24.6</text>
<line x1="320.4" y1="45.9" x2="322.2" y2="45.9" stroke="#9a9a9a" stroke-width="0.8"/>
<line x1="542.1" y1="45.9" x2="540.3000000000001" y2="45.9" stroke="#9a9a9a" stroke-width="0.8"/>
<text x="317.7" y="48.2" font-size="6.5" text-anchor="end" fill="#383838" class="tk">24.4</text>
<line x1="320.4" y1="61.8" x2="322.2" y2="61.8" stroke="#9a9a9a" stroke-width="0.8"/>
<line x1="542.1" y1="61.8" x2="540.3000000000001" y2="61.8" stroke="#9a9a9a" stroke-width="0.8"/>
<text x="317.7" y="64.2" font-size="6.5" text-anchor="end" fill="#383838" class="tk">24.2</text>
<line x1="320.4" y1="77.8" x2="322.2" y2="77.8" stroke="#9a9a9a" stroke-width="0.8"/>
<line x1="542.1" y1="77.8" x2="540.3000000000001" y2="77.8" stroke="#9a9a9a" stroke-width="0.8"/>
<text x="317.7" y="80.1" font-size="6.5" text-anchor="end" fill="#383838" class="tk">24</text>
<line x1="320.4" y1="93.7" x2="322.2" y2="93.7" stroke="#9a9a9a" stroke-width="0.8"/>
<line x1="542.1" y1="93.7" x2="540.3000000000001" y2="93.7" stroke="#9a9a9a" stroke-width="0.8"/>
<text x="317.7" y="96.0" font-size="6.5" text-anchor="end" fill="#383838" class="tk">23.8</text>
<line x1="320.4" y1="109.6" x2="322.2" y2="109.6" stroke="#9a9a9a" stroke-width="0.8"/>
<line x1="542.1" y1="109.6" x2="540.3000000000001" y2="109.6" stroke="#9a9a9a" stroke-width="0.8"/>
<text x="317.7" y="112.0" font-size="6.5" text-anchor="end" fill="#383838" class="tk">23.6</text>
<line x1="320.4" y1="125.6" x2="322.2" y2="125.6" stroke="#9a9a9a" stroke-width="0.8"/>
<line x1="542.1" y1="125.6" x2="540.3000000000001" y2="125.6" stroke="#9a9a9a" stroke-width="0.8"/>
<text x="317.7" y="127.9" font-size="6.5" text-anchor="end" fill="#383838" class="tk">23.4</text>
<line x1="320.4" y1="141.5" x2="322.2" y2="141.5" stroke="#9a9a9a" stroke-width="0.8"/>
<line x1="542.1" y1="141.5" x2="540.3000000000001" y2="141.5" stroke="#9a9a9a" stroke-width="0.8"/>
<text x="317.7" y="143.9" font-size="6.5" text-anchor="end" fill="#383838" class="tk">23.2</text>
<line x1="320.4" y1="157.5" x2="322.2" y2="157.5" stroke="#9a9a9a" stroke-width="0.8"/>
<line x1="542.1" y1="157.5" x2="540.3000000000001" y2="157.5" stroke="#9a9a9a" stroke-width="0.8"/>
<text x="317.7" y="159.8" font-size="6.5" text-anchor="end" fill="#383838" class="tk">23</text>
<line x1="320.4" y1="173.4" x2="322.2" y2="173.4" stroke="#9a9a9a" stroke-width="0.8"/>
<line x1="542.1" y1="173.4" x2="540.3000000000001" y2="173.4" stroke="#9a9a9a" stroke-width="0.8"/>
<text x="317.7" y="175.7" font-size="6.5" text-anchor="end" fill="#383838" class="tk">22.8</text>
<line x1="376.7" y1="126.5" x2="396.2" y2="93.1" stroke="#333" stroke-width="0.9"/>
<circle cx="491.9" cy="104.3" r="12.8" fill="none" stroke="#333" stroke-width="0.9"/>
<line x1="452.5" y1="156" x2="484" y2="115.5" stroke="#333" stroke-width="0.9"/>
<text x="332.6" y="140.5" class="an" font-size="12.2" textLength="67.3" lengthAdjust="spacingAndGlyphs">Optimal path</text>
<text x="392.6" y="171" class="an" font-size="12.2" textLength="82.8" lengthAdjust="spacingAndGlyphs">Path candidates</text>
<text x="413" y="21.9" class="mono" font-size="11" textLength="108.6" lengthAdjust="spacing" xml:space="preserve">W = [1.0 0.5 0]</text>
<text x="292.5" y="94" class="lb" font-size="12.4" text-anchor="middle" textLength="7.2" lengthAdjust="spacingAndGlyphs">y</text>
<text x="292.5" y="110.4" class="lb" font-size="12.4" text-anchor="middle" textLength="18.7" lengthAdjust="spacingAndGlyphs">(m)</text>
<text x="424" y="201.5" class="lb" font-size="12.8" text-anchor="middle" textLength="26.5" lengthAdjust="spacingAndGlyphs">x(m)</text>
<rect x="43.4" y="218.9" width="212.0" height="211.99999999999997" fill="none" stroke="#8a8a8a" stroke-width="1.0"/>
<line x1="43.4" y1="430.9" x2="43.4" y2="428.7" stroke="#8a8a8a" stroke-width="0.8"/>
<line x1="43.4" y1="218.9" x2="43.4" y2="221.1" stroke="#8a8a8a" stroke-width="0.8"/>
<text x="43.4" y="443.0" font-size="7.8" text-anchor="middle" fill="#333" class="tk">0</text>
<line x1="85.8" y1="430.9" x2="85.8" y2="428.7" stroke="#8a8a8a" stroke-width="0.8"/>
<line x1="85.8" y1="218.9" x2="85.8" y2="221.1" stroke="#8a8a8a" stroke-width="0.8"/>
<text x="85.8" y="443.0" font-size="7.8" text-anchor="middle" fill="#333" class="tk">10</text>
<line x1="128.2" y1="430.9" x2="128.2" y2="428.7" stroke="#8a8a8a" stroke-width="0.8"/>
<line x1="128.2" y1="218.9" x2="128.2" y2="221.1" stroke="#8a8a8a" stroke-width="0.8"/>
<text x="128.2" y="443.0" font-size="7.8" text-anchor="middle" fill="#333" class="tk">20</text>
<line x1="170.6" y1="430.9" x2="170.6" y2="428.7" stroke="#8a8a8a" stroke-width="0.8"/>
<line x1="170.6" y1="218.9" x2="170.6" y2="221.1" stroke="#8a8a8a" stroke-width="0.8"/>
<text x="170.6" y="443.0" font-size="7.8" text-anchor="middle" fill="#333" class="tk">30</text>
<line x1="213.0" y1="430.9" x2="213.0" y2="428.7" stroke="#8a8a8a" stroke-width="0.8"/>
<line x1="213.0" y1="218.9" x2="213.0" y2="221.1" stroke="#8a8a8a" stroke-width="0.8"/>
<text x="213.0" y="443.0" font-size="7.8" text-anchor="middle" fill="#333" class="tk">40</text>
<line x1="255.4" y1="430.9" x2="255.4" y2="428.7" stroke="#8a8a8a" stroke-width="0.8"/>
<line x1="255.4" y1="218.9" x2="255.4" y2="221.1" stroke="#8a8a8a" stroke-width="0.8"/>
<text x="255.4" y="443.0" font-size="7.8" text-anchor="middle" fill="#333" class="tk">50</text>
<line x1="43.4" y1="430.9" x2="45.6" y2="430.9" stroke="#8a8a8a" stroke-width="0.8"/>
<line x1="255.4" y1="430.9" x2="253.20000000000002" y2="430.9" stroke="#8a8a8a" stroke-width="0.8"/>
<text x="39.7" y="433.7" font-size="7.8" text-anchor="end" fill="#333" class="tk">0</text>
<line x1="43.4" y1="409.7" x2="45.6" y2="409.7" stroke="#8a8a8a" stroke-width="0.8"/>
<line x1="255.4" y1="409.7" x2="253.20000000000002" y2="409.7" stroke="#8a8a8a" stroke-width="0.8"/>
<text x="39.7" y="412.5" font-size="7.8" text-anchor="end" fill="#333" class="tk">5</text>
<line x1="43.4" y1="388.5" x2="45.6" y2="388.5" stroke="#8a8a8a" stroke-width="0.8"/>
<line x1="255.4" y1="388.5" x2="253.20000000000002" y2="388.5" stroke="#8a8a8a" stroke-width="0.8"/>
<text x="39.7" y="391.3" font-size="7.8" text-anchor="end" fill="#333" class="tk">10</text>
<line x1="43.4" y1="367.3" x2="45.6" y2="367.3" stroke="#8a8a8a" stroke-width="0.8"/>
<line x1="255.4" y1="367.3" x2="253.20000000000002" y2="367.3" stroke="#8a8a8a" stroke-width="0.8"/>
<text x="39.7" y="370.1" font-size="7.8" text-anchor="end" fill="#333" class="tk">15</text>
<line x1="43.4" y1="346.1" x2="45.6" y2="346.1" stroke="#8a8a8a" stroke-width="0.8"/>
<line x1="255.4" y1="346.1" x2="253.20000000000002" y2="346.1" stroke="#8a8a8a" stroke-width="0.8"/>
<text x="39.7" y="348.9" font-size="7.8" text-anchor="end" fill="#333" class="tk">20</text>
<line x1="43.4" y1="324.9" x2="45.6" y2="324.9" stroke="#8a8a8a" stroke-width="0.8"/>
<line x1="255.4" y1="324.9" x2="253.20000000000002" y2="324.9" stroke="#8a8a8a" stroke-width="0.8"/>
<text x="39.7" y="327.7" font-size="7.8" text-anchor="end" fill="#333" class="tk">25</text>
<line x1="43.4" y1="303.7" x2="45.6" y2="303.7" stroke="#8a8a8a" stroke-width="0.8"/>
<line x1="255.4" y1="303.7" x2="253.20000000000002" y2="303.7" stroke="#8a8a8a" stroke-width="0.8"/>
<text x="39.7" y="306.5" font-size="7.8" text-anchor="end" fill="#333" class="tk">30</text>
<line x1="43.4" y1="282.5" x2="45.6" y2="282.5" stroke="#8a8a8a" stroke-width="0.8"/>
<line x1="255.4" y1="282.5" x2="253.20000000000002" y2="282.5" stroke="#8a8a8a" stroke-width="0.8"/>
<text x="39.7" y="285.3" font-size="7.8" text-anchor="end" fill="#333" class="tk">35</text>
<line x1="43.4" y1="261.3" x2="45.6" y2="261.3" stroke="#8a8a8a" stroke-width="0.8"/>
<line x1="255.4" y1="261.3" x2="253.20000000000002" y2="261.3" stroke="#8a8a8a" stroke-width="0.8"/>
<text x="39.7" y="264.1" font-size="7.8" text-anchor="end" fill="#333" class="tk">40</text>
<line x1="43.4" y1="240.1" x2="45.6" y2="240.1" stroke="#8a8a8a" stroke-width="0.8"/>
<line x1="255.4" y1="240.1" x2="253.20000000000002" y2="240.1" stroke="#8a8a8a" stroke-width="0.8"/>
<text x="39.7" y="242.9" font-size="7.8" text-anchor="end" fill="#333" class="tk">45</text>
<line x1="43.4" y1="218.9" x2="45.6" y2="218.9" stroke="#8a8a8a" stroke-width="0.8"/>
<line x1="255.4" y1="218.9" x2="253.20000000000002" y2="218.9" stroke="#8a8a8a" stroke-width="0.8"/>
<text x="39.7" y="221.7" font-size="7.8" text-anchor="end" fill="#333" class="tk">50</text>
<polyline points="63.7,324.6 64.8,324.6 65.9,324.6 67.0,324.6 68.0,324.6 69.1,324.6 70.2,324.6 71.3,324.5 72.4,324.5 73.5,324.5 74.5,324.5 75.6,324.5 76.7,324.5 77.8,324.4 78.9,324.4 80.0,324.4 81.1,324.4 82.1,324.3 83.2,324.3 84.3,324.3 85.4,324.3 86.5,324.4 87.6,324.5 88.6,324.7 89.7,324.9 90.8,325.1 91.9,325.5 93.0,325.9 94.1,326.4 95.2,326.9 96.2,327.4 97.3,327.9 98.4,328.5 99.5,329.0 100.6,329.5 101.7,330.0 102.8,330.3 103.8,330.6 104.9,330.9 106.0,331.1 107.1,331.2 108.2,331.4 109.3,331.5 110.3,331.5 111.4,331.5 112.5,331.4 113.6,331.3 114.7,331.2 115.8,331.0 116.9,330.9 117.9,330.7 119.0,330.5 120.1,330.3 121.2,330.1 122.3,330.0 123.4,329.8 124.4,329.6 125.5,329.4 126.6,329.2 127.7,329.0" fill="none" stroke="#1877C9" stroke-width="3.1" stroke-opacity="1" stroke-linejoin="round" stroke-linecap="round" />
<circle cx="106.9" cy="324.5" r="4.2" fill="#fff" stroke="#BFCF30" stroke-width="1.0"/>
<circle cx="170.5" cy="324.6" r="2.1" fill="#fff" stroke="#E58B63" stroke-width="0.8"/>
<text x="94.1" y="313.5" class="lb" font-size="13.6" textLength="51.8" lengthAdjust="spacingAndGlyphs">obstacle</text>
<text x="63.4" y="348.3" class="lb" font-size="13.6" textLength="45.5" lengthAdjust="spacingAndGlyphs">Vehicle</text>
<text x="54.6" y="366.4" class="lb" font-size="13.6" textLength="64.4" lengthAdjust="spacingAndGlyphs">Trajectory</text>
<text x="158.5" y="347.5" class="lb" font-size="13.6" textLength="26.5" lengthAdjust="spacingAndGlyphs">goal</text>
<text x="16.5" y="326.9" class="lb" font-size="14" text-anchor="middle" textLength="8.4" lengthAdjust="spacingAndGlyphs">y</text>
<text x="16.5" y="344.7" class="lb" font-size="14" text-anchor="middle" textLength="22.9" lengthAdjust="spacingAndGlyphs">(m)</text>
<text x="142.6" y="458.5" class="lb" font-size="14.8" text-anchor="middle" textLength="31.7" lengthAdjust="spacingAndGlyphs">x(m)</text>
<rect x="327.3" y="222.0" width="210.99999999999994" height="211.5" fill="none" stroke="#8a8a8a" stroke-width="1.0"/>
<line x1="327.3" y1="433.5" x2="327.3" y2="431.3" stroke="#8a8a8a" stroke-width="0.8"/>
<line x1="327.3" y1="222.0" x2="327.3" y2="224.2" stroke="#8a8a8a" stroke-width="0.8"/>
<text x="327.3" y="445.4" font-size="7.8" text-anchor="middle" fill="#333" class="tk">0</text>
<line x1="369.5" y1="433.5" x2="369.5" y2="431.3" stroke="#8a8a8a" stroke-width="0.8"/>
<line x1="369.5" y1="222.0" x2="369.5" y2="224.2" stroke="#8a8a8a" stroke-width="0.8"/>
<text x="369.5" y="445.4" font-size="7.8" text-anchor="middle" fill="#333" class="tk">10</text>
<line x1="411.7" y1="433.5" x2="411.7" y2="431.3" stroke="#8a8a8a" stroke-width="0.8"/>
<line x1="411.7" y1="222.0" x2="411.7" y2="224.2" stroke="#8a8a8a" stroke-width="0.8"/>
<text x="411.7" y="445.4" font-size="7.8" text-anchor="middle" fill="#333" class="tk">20</text>
<line x1="453.9" y1="433.5" x2="453.9" y2="431.3" stroke="#8a8a8a" stroke-width="0.8"/>
<line x1="453.9" y1="222.0" x2="453.9" y2="224.2" stroke="#8a8a8a" stroke-width="0.8"/>
<text x="453.9" y="445.4" font-size="7.8" text-anchor="middle" fill="#333" class="tk">30</text>
<line x1="496.1" y1="433.5" x2="496.1" y2="431.3" stroke="#8a8a8a" stroke-width="0.8"/>
<line x1="496.1" y1="222.0" x2="496.1" y2="224.2" stroke="#8a8a8a" stroke-width="0.8"/>
<text x="496.1" y="445.4" font-size="7.8" text-anchor="middle" fill="#333" class="tk">40</text>
<line x1="538.3" y1="433.5" x2="538.3" y2="431.3" stroke="#8a8a8a" stroke-width="0.8"/>
<line x1="538.3" y1="222.0" x2="538.3" y2="224.2" stroke="#8a8a8a" stroke-width="0.8"/>
<text x="538.3" y="445.4" font-size="7.8" text-anchor="middle" fill="#333" class="tk">50</text>
<line x1="327.3" y1="433.5" x2="329.5" y2="433.5" stroke="#8a8a8a" stroke-width="0.8"/>
<line x1="538.3" y1="433.5" x2="536.0999999999999" y2="433.5" stroke="#8a8a8a" stroke-width="0.8"/>
<text x="323.6" y="436.3" font-size="7.8" text-anchor="end" fill="#333" class="tk">0</text>
<line x1="327.3" y1="412.4" x2="329.5" y2="412.4" stroke="#8a8a8a" stroke-width="0.8"/>
<line x1="538.3" y1="412.4" x2="536.0999999999999" y2="412.4" stroke="#8a8a8a" stroke-width="0.8"/>
<text x="323.6" y="415.2" font-size="7.8" text-anchor="end" fill="#333" class="tk">5</text>
<line x1="327.3" y1="391.2" x2="329.5" y2="391.2" stroke="#8a8a8a" stroke-width="0.8"/>
<line x1="538.3" y1="391.2" x2="536.0999999999999" y2="391.2" stroke="#8a8a8a" stroke-width="0.8"/>
<text x="323.6" y="394.0" font-size="7.8" text-anchor="end" fill="#333" class="tk">10</text>
<line x1="327.3" y1="370.1" x2="329.5" y2="370.1" stroke="#8a8a8a" stroke-width="0.8"/>
<line x1="538.3" y1="370.1" x2="536.0999999999999" y2="370.1" stroke="#8a8a8a" stroke-width="0.8"/>
<text x="323.6" y="372.9" font-size="7.8" text-anchor="end" fill="#333" class="tk">15</text>
<line x1="327.3" y1="348.9" x2="329.5" y2="348.9" stroke="#8a8a8a" stroke-width="0.8"/>
<line x1="538.3" y1="348.9" x2="536.0999999999999" y2="348.9" stroke="#8a8a8a" stroke-width="0.8"/>
<text x="323.6" y="351.7" font-size="7.8" text-anchor="end" fill="#333" class="tk">20</text>
<line x1="327.3" y1="327.8" x2="329.5" y2="327.8" stroke="#8a8a8a" stroke-width="0.8"/>
<line x1="538.3" y1="327.8" x2="536.0999999999999" y2="327.8" stroke="#8a8a8a" stroke-width="0.8"/>
<text x="323.6" y="330.6" font-size="7.8" text-anchor="end" fill="#333" class="tk">25</text>
<line x1="327.3" y1="306.6" x2="329.5" y2="306.6" stroke="#8a8a8a" stroke-width="0.8"/>
<line x1="538.3" y1="306.6" x2="536.0999999999999" y2="306.6" stroke="#8a8a8a" stroke-width="0.8"/>
<text x="323.6" y="309.4" font-size="7.8" text-anchor="end" fill="#333" class="tk">30</text>
<line x1="327.3" y1="285.5" x2="329.5" y2="285.5" stroke="#8a8a8a" stroke-width="0.8"/>
<line x1="538.3" y1="285.5" x2="536.0999999999999" y2="285.5" stroke="#8a8a8a" stroke-width="0.8"/>
<text x="323.6" y="288.3" font-size="7.8" text-anchor="end" fill="#333" class="tk">35</text>
<line x1="327.3" y1="264.3" x2="329.5" y2="264.3" stroke="#8a8a8a" stroke-width="0.8"/>
<line x1="538.3" y1="264.3" x2="536.0999999999999" y2="264.3" stroke="#8a8a8a" stroke-width="0.8"/>
<text x="323.6" y="267.1" font-size="7.8" text-anchor="end" fill="#333" class="tk">40</text>
<line x1="327.3" y1="243.2" x2="329.5" y2="243.2" stroke="#8a8a8a" stroke-width="0.8"/>
<line x1="538.3" y1="243.2" x2="536.0999999999999" y2="243.2" stroke="#8a8a8a" stroke-width="0.8"/>
<text x="323.6" y="246.0" font-size="7.8" text-anchor="end" fill="#333" class="tk">45</text>
<line x1="327.3" y1="222.0" x2="329.5" y2="222.0" stroke="#8a8a8a" stroke-width="0.8"/>
<line x1="538.3" y1="222.0" x2="536.0999999999999" y2="222.0" stroke="#8a8a8a" stroke-width="0.8"/>
<text x="323.6" y="224.8" font-size="7.8" text-anchor="end" fill="#333" class="tk">50</text>
<polyline points="348.0,327.5 349.0,327.5 350.0,327.5 351.1,327.5 352.1,327.5 353.1,327.5 354.1,327.5 355.2,327.5 356.2,327.5 357.2,327.5 358.2,327.5 359.3,327.5 360.3,327.5 361.3,327.5 362.3,327.5 363.4,327.5 364.4,327.5 365.4,327.5 366.4,327.4 367.5,327.4 368.5,327.4 369.5,327.4 370.5,327.4 371.5,327.4 372.6,327.5 373.6,327.7 374.6,328.0 375.6,328.2 376.7,328.8 377.7,329.7 378.7,330.8 379.7,331.9 380.8,332.8 381.8,333.7 382.8,334.5 383.8,335.3 384.9,336.0 385.9,336.7 386.9,337.2 387.9,337.6 388.9,338.0 390.0,338.3 391.0,338.5 392.0,338.7 393.0,338.8 394.1,338.8 395.1,338.8 396.1,338.7 397.1,338.7 398.2,338.6 399.2,338.5 400.2,338.4 401.2,338.2 402.3,338.1 403.3,337.9 404.3,337.8 405.3,337.6 406.4,337.4 407.4,337.2 408.4,337.0" fill="none" stroke="#1877C9" stroke-width="3.1" stroke-opacity="1" stroke-linejoin="round" stroke-linecap="round" />
<circle cx="390.2" cy="327.3" r="4.0" fill="#fff" stroke="#BFCF30" stroke-width="1.0"/>
<circle cx="453.6" cy="327.5" r="2.1" fill="#fff" stroke="#E58B63" stroke-width="0.8"/>
<text x="377.4" y="316.6" class="lb" font-size="13.6" textLength="51.6" lengthAdjust="spacingAndGlyphs">obstacle</text>
<text x="346.7" y="351" class="lb" font-size="13.6" textLength="45.3" lengthAdjust="spacingAndGlyphs">Vehicle</text>
<text x="338" y="368.4" class="lb" font-size="13.6" textLength="64.6" lengthAdjust="spacingAndGlyphs">Trajectory</text>
<text x="441.5" y="350" class="lb" font-size="13.6" textLength="26" lengthAdjust="spacingAndGlyphs">goal</text>
<text x="300.9" y="330.7" class="lb" font-size="14" text-anchor="middle" textLength="8.4" lengthAdjust="spacingAndGlyphs">y</text>
<text x="300.4" y="347.3" class="lb" font-size="14" text-anchor="middle" textLength="22.9" lengthAdjust="spacingAndGlyphs">(m)</text>
<text x="425.5" y="460" class="lb" font-size="14.8" text-anchor="middle" textLength="31.7" lengthAdjust="spacingAndGlyphs">x(m)</text>
<text x="26.3" y="485.1" class="cap" font-size="10.6" textLength="117.1" lengthAdjust="spacingAndGlyphs" xml:space="preserve">(<tspan font-weight="bold">a</tspan>) generated path when</text>
<text x="151.8" y="485.1" class="cap" font-size="10.6" textLength="86.6" lengthAdjust="spacingAndGlyphs" xml:space="preserve">W<tspan font-size="7" dy="2">1</tspan><tspan dy="-2"> = [0.2,  0.5,  0]</tspan></text>
<text x="307.5" y="484.8" class="cap" font-size="10.6" textLength="117.2" lengthAdjust="spacingAndGlyphs" xml:space="preserve">(<tspan font-weight="bold">b</tspan>) generated path when</text>
<text x="433.9" y="484.8" class="cap" font-size="10.6" textLength="87" lengthAdjust="spacingAndGlyphs" xml:space="preserve">W<tspan font-size="7" dy="2">2</tspan><tspan dy="-2"> = [1.0,  0.5,  0]</tspan></text>
</g>
</svg>
</body></html>
